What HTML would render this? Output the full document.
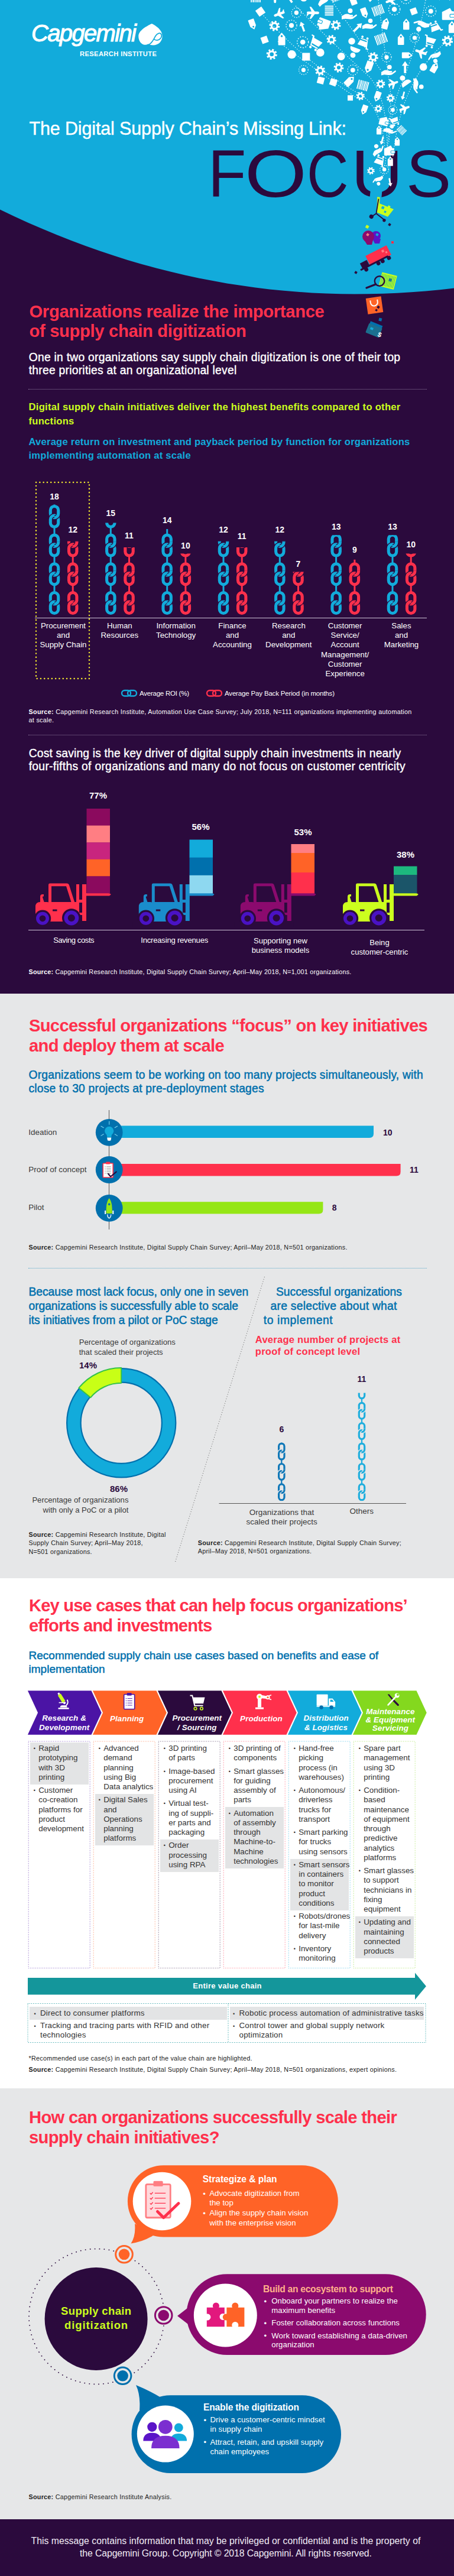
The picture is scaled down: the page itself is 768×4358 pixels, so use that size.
<!DOCTYPE html>
<html lang="en"><head><meta charset="utf-8"><title>The Digital Supply Chain's Missing Link: FOCUS</title>
<style>
*{margin:0;padding:0;box-sizing:border-box}
html,body{width:768px;height:4358px;overflow:hidden;background:#fff}
body{font-family:"Liberation Sans",sans-serif;position:relative}
#pg{position:absolute;left:0;top:0;width:768px;height:4358px;overflow:hidden;background:#fff}
.t{position:absolute;white-space:nowrap}
.bx{position:absolute}
svg{position:absolute;left:0;top:0;overflow:visible}
b{font-weight:700}
</style></head>
<body><div id="pg">
<div class="bx" style="left:0;top:0;width:768px;height:1681px;background:#2B0A3D"></div>
<div class="bx" style="left:0;top:1681px;width:768px;height:989px;background:#E6E7E8"></div>
<div class="bx" style="left:0;top:3533px;width:768px;height:729px;background:#E6E7E8"></div>
<div class="bx" style="left:0;top:4262px;width:768px;height:96px;background:#2B0A3D"></div>
<svg width="768" height="520" viewBox="0 0 768 520"><path d="M0 0 H768 V487.6 L744 490.3 L720 492.5 L696 494.3 L672 495.8 L648 496.8 L624 497.3 L600 497.5 L576 497.2 L552 496.5 L528 495.4 L504 493.8 L480 491.8 L456 489.4 L432 486.5 L408 483.1 L384 479.4 L360 475.1 L336 470.4 L312 465.2 L288 459.6 L264 453.5 L240 446.9 L216 439.9 L192 432.3 L168 424.3 L144 415.8 L120 406.8 L96 397.3 L72 387.3 L48 376.9 L24 365.9 L0 354.4 Z" fill="#12ABDB"/></svg><div class="t" style="left:53.0px;top:32.1px;font-size:40px;line-height:48px;color:#fff;letter-spacing:-1.652px;font-style:italic;-webkit-text-stroke:1px #fff;">Capgemini</div>
<svg width="300" height="120" viewBox="0 0 300 120"><path fill="#fff" d="M256.7 39.9 C263 43 274.6 50 274.6 61 C274.6 70 268 76.5 259 76.5 C256 76.5 253 75.6 251 74.2 C248 75.8 245 76.2 243 75.5 C238 74 234.3 68 234.3 61.5 C234.3 51 249 44 256.7 39.9 Z"/><path fill="none" stroke="#12ABDB" stroke-width="1.7" stroke-linecap="round" d="M252.3 75.3 C258 72 260 66 263 61 C266 56 271.4 54.4 273 58.6 C274.6 63 270 68.6 264.6 68 C262.6 67.8 261.2 67 260.6 65.8"/></svg><div class="t" style="left:135.0px;top:84.9px;font-size:11.2px;line-height:13px;color:#fff;letter-spacing:0.363px;font-weight:700;">RESEARCH INSTITUTE</div>
<div class="t" style="left:49.5px;top:199.4px;font-size:30.5px;line-height:37px;color:#fff;letter-spacing:-0.139px;-webkit-text-stroke:0.45px #fff;">The Digital Supply Chain’s Missing Link:</div>
<div class="bx" style="left:0;top:0" aria-label="FOCUS"><div class="t" style="left:351.9px;top:224.5px;font-size:114px;line-height:137px;color:#2B0A3D;transform-origin:0 0;transform:scaleX(0.9238);">F</div><div class="t" style="left:413.7px;top:224.5px;font-size:114px;line-height:137px;color:#2B0A3D;transform-origin:0 0;transform:scaleX(1.1816);">O</div><div class="t" style="left:519.1px;top:224.5px;font-size:114px;line-height:137px;color:#2B0A3D;transform-origin:0 0;transform:scaleX(0.8565);">C</div><div class="t" style="left:593.7px;top:224.5px;font-size:114px;line-height:137px;color:#2B0A3D;transform-origin:0 0;transform:scaleX(1.0637);">U</div><div class="t" style="left:686.9px;top:224.5px;font-size:114px;line-height:137px;color:#2B0A3D;transform-origin:0 0;transform:scaleX(1.0034);">S</div></div><svg width="768" height="600" viewBox="0 0 768 600"><g fill="none" stroke="#fff" stroke-width="1.1" stroke-dasharray="1.6 2.6" opacity=".9"><path d="M440 20 Q520 110 610 160 Q650 185 652 270"/><path d="M500 10 Q570 80 625 130 Q655 165 655 250"/><path d="M768 60 Q715 100 690 160 Q672 200 664 270"/><path d="M720 0 Q705 80 680 140 Q662 180 658 240"/><path d="M560 0 Q610 70 645 120"/><path d="M470 70 Q550 130 610 170"/><path d="M640 0 Q650 80 660 150 Q664 200 648 300"/></g><g transform="translate(432.5 -3.4) rotate(0) scale(1.04)"><rect x="-8" y="-7" width="1.6" height="14" fill="#fff"/><rect x="-5.5" y="-7" width="0.8" height="14" fill="#fff"/><rect x="-4" y="-7" width="1.6" height="14" fill="#fff"/><rect x="-1.5" y="-7" width="1.2" height="14" fill="#fff"/><rect x="0.5" y="-7" width="0.8" height="14" fill="#fff"/><rect x="2" y="-7" width="1.6" height="14" fill="#fff"/><rect x="4.5" y="-7" width="1.2" height="14" fill="#fff"/><rect x="6.5" y="-7" width="1.6" height="14" fill="#fff"/></g><g transform="translate(465.2 -4.3) rotate(90) scale(1.00)"><path fill="#fff" d="M-9 1 L-9 -1 Q-9 -2 -7 -2 L-2 -2 L-5 -9 L-2.5 -9 L3 -2 L7 -2 Q9.5 -2 9.5 0 Q9.5 2 7 2 L3 2 L-2.5 9 L-5 9 L-2 2 L-6 2 L-8 4.5 L-9.5 4.5 L-8.5 1 Z"/></g><g transform="translate(489.1 -3.1) rotate(-35) scale(1.11)"><path fill="#fff" d="M0 -9 L4.5 -2.5 L1.6 -2.5 L1.6 8 L-1.6 8 L-1.6 -2.5 L-4.5 -2.5 Z"/></g><g transform="translate(513.8 -3.9) rotate(0) scale(1.07)"><circle r="6" fill="#fff"/></g><g transform="translate(546.3 -1.1) rotate(-35) scale(1.05)"><path fill="#fff" d="M-11 2 L-6 -1 Q-2 -2 2 0 L5 0 Q7 0.5 6 2.2 L1 2.6 L6.5 2.6 L11 -0.5 Q13 -0.5 12 1.5 L6 6 Q4 7 0 6.6 L-6 6 L-11 7 Z"/><circle cx="2" cy="-6" r="3.6" fill="#fff"/></g><g transform="translate(568.9 -6.0) rotate(-20) scale(1.11)"><rect x="-8" y="-7" width="1.6" height="14" fill="#fff"/><rect x="-5.5" y="-7" width="0.8" height="14" fill="#fff"/><rect x="-4" y="-7" width="1.6" height="14" fill="#fff"/><rect x="-1.5" y="-7" width="1.2" height="14" fill="#fff"/><rect x="0.5" y="-7" width="0.8" height="14" fill="#fff"/><rect x="2" y="-7" width="1.6" height="14" fill="#fff"/><rect x="4.5" y="-7" width="1.2" height="14" fill="#fff"/><rect x="6.5" y="-7" width="1.6" height="14" fill="#fff"/></g><g transform="translate(596.9 -0.9) rotate(-20) scale(1.05)"><path fill="#fff" fill-rule="evenodd" d="M-5 -3 L0 -9 L5 -3 L5 8 Q5 9 4 9 L-4 9 Q-5 9 -5 8 Z M0 -5.6 a1.5 1.5 0 1 0 0.01 0 Z"/></g><g transform="translate(630.9 -8.6) rotate(-35) scale(1.00)"><path fill="#fff" d="M-11 2 L-6 -1 Q-2 -2 2 0 L5 0 Q7 0.5 6 2.2 L1 2.6 L6.5 2.6 L11 -0.5 Q13 -0.5 12 1.5 L6 6 Q4 7 0 6.6 L-6 6 L-11 7 Z"/><circle cx="2" cy="-6" r="3.6" fill="#fff"/></g><g transform="translate(661.8 0.6) rotate(160) scale(1.04)"><path fill="#fff" d="M-9 1 L-9 -1 Q-9 -2 -7 -2 L-2 -2 L-5 -9 L-2.5 -9 L3 -2 L7 -2 Q9.5 -2 9.5 0 Q9.5 2 7 2 L3 2 L-2.5 9 L-5 9 L-2 2 L-6 2 L-8 4.5 L-9.5 4.5 L-8.5 1 Z"/></g><g transform="translate(686.5 -2.8) rotate(0) scale(1.13)"><circle r="8" fill="none" stroke="#fff" stroke-width="1.2" stroke-dasharray="1.5 2.2"/><circle r="3.6" fill="#fff"/></g><g transform="translate(709.6 -8.8) rotate(15) scale(0.98)"><rect x="-8" y="-7" width="1.6" height="14" fill="#fff"/><rect x="-5.5" y="-7" width="0.8" height="14" fill="#fff"/><rect x="-4" y="-7" width="1.6" height="14" fill="#fff"/><rect x="-1.5" y="-7" width="1.2" height="14" fill="#fff"/><rect x="0.5" y="-7" width="0.8" height="14" fill="#fff"/><rect x="2" y="-7" width="1.6" height="14" fill="#fff"/><rect x="4.5" y="-7" width="1.2" height="14" fill="#fff"/><rect x="6.5" y="-7" width="1.6" height="14" fill="#fff"/></g><g transform="translate(741.3 -8.4) rotate(30) scale(1.18)"><rect x="-5.5" y="-5.5" width="11" height="11" fill="#fff"/></g><g transform="translate(765.9 -6.6) rotate(45) scale(1.11)"><path fill="#fff" d="M0 -9 L4.5 -2.5 L1.6 -2.5 L1.6 8 L-1.6 8 L-1.6 -2.5 L-4.5 -2.5 Z"/></g><g transform="translate(440.5 19.7) rotate(-35) scale(1.13)"><rect x="-5.5" y="-5.5" width="11" height="11" fill="#fff"/></g><g transform="translate(472.6 23.5) rotate(160) scale(1.03)"><path fill="#fff" d="M-9 1 L-9 -1 Q-9 -2 -7 -2 L-2 -2 L-5 -9 L-2.5 -9 L3 -2 L7 -2 Q9.5 -2 9.5 0 Q9.5 2 7 2 L3 2 L-2.5 9 L-5 9 L-2 2 L-6 2 L-8 4.5 L-9.5 4.5 L-8.5 1 Z"/></g><g transform="translate(501.4 21.5) rotate(0) scale(1.02)"><circle r="8" fill="none" stroke="#fff" stroke-width="1.2" stroke-dasharray="1.5 2.2"/><circle r="3.6" fill="#fff"/></g><g transform="translate(529.2 21.7) rotate(0) scale(1.12)"><path fill="#fff" d="M-9 1 L-9 -1 Q-9 -2 -7 -2 L-2 -2 L-5 -9 L-2.5 -9 L3 -2 L7 -2 Q9.5 -2 9.5 0 Q9.5 2 7 2 L3 2 L-2.5 9 L-5 9 L-2 2 L-6 2 L-8 4.5 L-9.5 4.5 L-8.5 1 Z"/></g><g transform="translate(556.8 17.9) rotate(90) scale(1.04)"><rect x="-8" y="-7" width="1.6" height="14" fill="#fff"/><rect x="-5.5" y="-7" width="0.8" height="14" fill="#fff"/><rect x="-4" y="-7" width="1.6" height="14" fill="#fff"/><rect x="-1.5" y="-7" width="1.2" height="14" fill="#fff"/><rect x="0.5" y="-7" width="0.8" height="14" fill="#fff"/><rect x="2" y="-7" width="1.6" height="14" fill="#fff"/><rect x="4.5" y="-7" width="1.2" height="14" fill="#fff"/><rect x="6.5" y="-7" width="1.6" height="14" fill="#fff"/></g><g transform="translate(590.2 25.0) rotate(0) scale(1.11)"><path fill="#fff" d="M-11 2 L-6 -1 Q-2 -2 2 0 L5 0 Q7 0.5 6 2.2 L1 2.6 L6.5 2.6 L11 -0.5 Q13 -0.5 12 1.5 L6 6 Q4 7 0 6.6 L-6 6 L-11 7 Z"/><circle cx="2" cy="-6" r="3.6" fill="#fff"/></g><g transform="translate(616.6 22.2) rotate(160) scale(1.00)"><path fill="#fff" fill-rule="evenodd" d="M-5 -3 L0 -9 L5 -3 L5 8 Q5 9 4 9 L-4 9 Q-5 9 -5 8 Z M0 -5.6 a1.5 1.5 0 1 0 0.01 0 Z"/></g><g transform="translate(639.4 17.4) rotate(-20) scale(1.14)"><rect x="-8" y="-7" width="1.6" height="14" fill="#fff"/><rect x="-5.5" y="-7" width="0.8" height="14" fill="#fff"/><rect x="-4" y="-7" width="1.6" height="14" fill="#fff"/><rect x="-1.5" y="-7" width="1.2" height="14" fill="#fff"/><rect x="0.5" y="-7" width="0.8" height="14" fill="#fff"/><rect x="2" y="-7" width="1.6" height="14" fill="#fff"/><rect x="4.5" y="-7" width="1.2" height="14" fill="#fff"/><rect x="6.5" y="-7" width="1.6" height="14" fill="#fff"/></g><g transform="translate(667.1 15.8) rotate(0) scale(1.20)"><circle r="8" fill="none" stroke="#fff" stroke-width="1.2" stroke-dasharray="1.5 2.2"/><circle r="3.6" fill="#fff"/></g><g transform="translate(699.9 19.1) rotate(160) scale(0.98)"><rect x="-5.5" y="-5.5" width="11" height="11" fill="#fff"/></g><g transform="translate(728.7 18.9) rotate(0) scale(1.11)"><circle r="8" fill="none" stroke="#fff" stroke-width="1.2" stroke-dasharray="1.5 2.2"/><circle r="3.6" fill="#fff"/></g><g transform="translate(757.8 23.6) rotate(0) scale(1.12)"><path fill="#fff" d="M-9 -3 L3 -9 L6 -4 L8 -4 Q9 -4 9 -3 L9 8 Q9 9 8 9 L-8 9 Q-9 9 -9 8 Z"/><rect x="3" y="0.5" width="7.5" height="4.6" rx="1" fill="#fff" stroke="#12ABDB" stroke-width="1"/></g><g transform="translate(427.2 41.3) rotate(160) scale(1.01)"><path fill="#fff" fill-rule="evenodd" d="M-5 -3 L0 -9 L5 -3 L5 8 Q5 9 4 9 L-4 9 Q-5 9 -5 8 Z M0 -5.6 a1.5 1.5 0 1 0 0.01 0 Z"/></g><g transform="translate(464.3 43.9) rotate(0) scale(1.14)"><circle r="4.3" fill="none" stroke="#fff" stroke-width="2.9"/><circle r="6.6" fill="none" stroke="#fff" stroke-width="2.5" stroke-dasharray="2.61"/></g><g transform="translate(493.0 43.1) rotate(0) scale(1.13)"><circle r="8" fill="none" stroke="#fff" stroke-width="1.2" stroke-dasharray="1.5 2.2"/><circle r="3.6" fill="#fff"/></g><g transform="translate(511.9 45.5) rotate(-20) scale(1.02)"><path fill="#fff" d="M0 -9 L4.5 -2.5 L1.6 -2.5 L1.6 8 L-1.6 8 L-1.6 -2.5 L-4.5 -2.5 Z"/></g><g transform="translate(547.0 41.9) rotate(200) scale(1.12)"><path fill="#fff" d="M-9 -3 L3 -9 L6 -4 L8 -4 Q9 -4 9 -3 L9 8 Q9 9 8 9 L-8 9 Q-9 9 -9 8 Z"/><rect x="3" y="0.5" width="7.5" height="4.6" rx="1" fill="#fff" stroke="#12ABDB" stroke-width="1"/></g><g transform="translate(568.1 42.5) rotate(0) scale(1.08)"><circle r="4.3" fill="none" stroke="#fff" stroke-width="2.9"/><circle r="6.6" fill="none" stroke="#fff" stroke-width="2.5" stroke-dasharray="2.61"/></g><g transform="translate(604.8 46.7) rotate(45) scale(1.16)"><path fill="#fff" d="M0 -9 L4.5 -2.5 L1.6 -2.5 L1.6 8 L-1.6 8 L-1.6 -2.5 L-4.5 -2.5 Z"/></g><g transform="translate(624.4 41.6) rotate(0) scale(1.05)"><path fill="#fff" d="M-11 2 L-6 -1 Q-2 -2 2 0 L5 0 Q7 0.5 6 2.2 L1 2.6 L6.5 2.6 L11 -0.5 Q13 -0.5 12 1.5 L6 6 Q4 7 0 6.6 L-6 6 L-11 7 Z"/><circle cx="2" cy="-6" r="3.6" fill="#fff"/></g><g transform="translate(652.2 39.8) rotate(15) scale(1.06)"><path fill="#fff" fill-rule="evenodd" d="M-5 -3 L0 -9 L5 -3 L5 8 Q5 9 4 9 L-4 9 Q-5 9 -5 8 Z M0 -5.6 a1.5 1.5 0 1 0 0.01 0 Z"/></g><g transform="translate(687.2 40.9) rotate(0) scale(1.04)"><path fill="#fff" fill-rule="evenodd" d="M-5 -3 L0 -9 L5 -3 L5 8 Q5 9 4 9 L-4 9 Q-5 9 -5 8 Z M0 -5.6 a1.5 1.5 0 1 0 0.01 0 Z"/></g><g transform="translate(712.8 43.6) rotate(200) scale(1.15)"><path fill="#fff" d="M-11 2 L-6 -1 Q-2 -2 2 0 L5 0 Q7 0.5 6 2.2 L1 2.6 L6.5 2.6 L11 -0.5 Q13 -0.5 12 1.5 L6 6 Q4 7 0 6.6 L-6 6 L-11 7 Z"/><circle cx="2" cy="-6" r="3.6" fill="#fff"/></g><g transform="translate(737.1 46.5) rotate(160) scale(1.03)"><path fill="#fff" d="M-10 -8 L-6 -8 L-5 -5 L9 -5 L7 3 L-4 3 L-3.2 5 L7 5 L7 6.6 L-4.6 6.6 L-7.6 -6.2 L-10 -6.2 Z"/><circle cx="-3" cy="9" r="1.8" fill="#fff"/><circle cx="5.5" cy="9" r="1.8" fill="#fff"/></g><g transform="translate(764.5 45.6) rotate(0) scale(1.13)"><path fill="#fff" fill-rule="evenodd" d="M-5 -3 L0 -9 L5 -3 L5 8 Q5 9 4 9 L-4 9 Q-5 9 -5 8 Z M0 -5.6 a1.5 1.5 0 1 0 0.01 0 Z"/></g><g transform="translate(447.6 67.4) rotate(-20) scale(1.01)"><rect x="-5.5" y="-5.5" width="11" height="11" fill="#fff"/></g><g transform="translate(476.6 65.9) rotate(0) scale(1.19)"><path fill="#fff" fill-rule="evenodd" d="M-5 -3 L0 -9 L5 -3 L5 8 Q5 9 4 9 L-4 9 Q-5 9 -5 8 Z M0 -5.6 a1.5 1.5 0 1 0 0.01 0 Z"/></g><g transform="translate(512.2 71.3) rotate(0) scale(1.19)"><circle r="8" fill="none" stroke="#fff" stroke-width="1.2" stroke-dasharray="1.5 2.2"/><circle r="3.6" fill="#fff"/></g><g transform="translate(533.5 72.1) rotate(30) scale(1.18)"><path fill="#fff" d="M-10 -8 L-6 -8 L-5 -5 L9 -5 L7 3 L-4 3 L-3.2 5 L7 5 L7 6.6 L-4.6 6.6 L-7.6 -6.2 L-10 -6.2 Z"/><circle cx="-3" cy="9" r="1.8" fill="#fff"/><circle cx="5.5" cy="9" r="1.8" fill="#fff"/></g><g transform="translate(560.6 67.2) rotate(0) scale(1.04)"><circle r="4.3" fill="none" stroke="#fff" stroke-width="2.9"/><circle r="6.6" fill="none" stroke="#fff" stroke-width="2.5" stroke-dasharray="2.61"/></g><g transform="translate(595.0 69.7) rotate(0) scale(0.96)"><circle r="6" fill="#fff"/></g><g transform="translate(615.4 73.1) rotate(200) scale(1.06)"><path fill="#fff" d="M-10 -8 L-6 -8 L-5 -5 L9 -5 L7 3 L-4 3 L-3.2 5 L7 5 L7 6.6 L-4.6 6.6 L-7.6 -6.2 L-10 -6.2 Z"/><circle cx="-3" cy="9" r="1.8" fill="#fff"/><circle cx="5.5" cy="9" r="1.8" fill="#fff"/></g><g transform="translate(644.6 65.8) rotate(160) scale(1.18)"><rect x="-8" y="-7" width="1.6" height="14" fill="#fff"/><rect x="-5.5" y="-7" width="0.8" height="14" fill="#fff"/><rect x="-4" y="-7" width="1.6" height="14" fill="#fff"/><rect x="-1.5" y="-7" width="1.2" height="14" fill="#fff"/><rect x="0.5" y="-7" width="0.8" height="14" fill="#fff"/><rect x="2" y="-7" width="1.6" height="14" fill="#fff"/><rect x="4.5" y="-7" width="1.2" height="14" fill="#fff"/><rect x="6.5" y="-7" width="1.6" height="14" fill="#fff"/></g><g transform="translate(678.2 66.5) rotate(0) scale(1.06)"><path fill="#fff" fill-rule="evenodd" d="M-5 -3 L0 -9 L5 -3 L5 8 Q5 9 4 9 L-4 9 Q-5 9 -5 8 Z M0 -5.6 a1.5 1.5 0 1 0 0.01 0 Z"/></g><g transform="translate(701.4 64.0) rotate(0) scale(0.99)"><circle r="8" fill="none" stroke="#fff" stroke-width="1.2" stroke-dasharray="1.5 2.2"/><circle r="3.6" fill="#fff"/></g><g transform="translate(727.3 69.1) rotate(15) scale(1.07)"><path fill="#fff" d="M-10 -8 L-6 -8 L-5 -5 L9 -5 L7 3 L-4 3 L-3.2 5 L7 5 L7 6.6 L-4.6 6.6 L-7.6 -6.2 L-10 -6.2 Z"/><circle cx="-3" cy="9" r="1.8" fill="#fff"/><circle cx="5.5" cy="9" r="1.8" fill="#fff"/></g><g transform="translate(756.9 69.3) rotate(0) scale(1.18)"><circle r="4.3" fill="none" stroke="#fff" stroke-width="2.9"/><circle r="6.6" fill="none" stroke="#fff" stroke-width="2.5" stroke-dasharray="2.61"/></g><g transform="translate(459.7 91.9) rotate(0) scale(1.16)"><circle r="4.3" fill="none" stroke="#fff" stroke-width="2.9"/><circle r="6.6" fill="none" stroke="#fff" stroke-width="2.5" stroke-dasharray="2.61"/></g><g transform="translate(493.6 92.2) rotate(0) scale(1.19)"><circle r="6" fill="#fff"/></g><g transform="translate(517.8 96.0) rotate(90) scale(1.19)"><rect x="-5.5" y="-5.5" width="11" height="11" fill="#fff"/></g><g transform="translate(541.8 88.9) rotate(0) scale(1.14)"><circle r="6" fill="#fff"/></g><g transform="translate(577.1 95.5) rotate(0) scale(1.08)"><circle r="6" fill="#fff"/></g><g transform="translate(598.5 89.2) rotate(200) scale(1.11)"><circle cy="-4" r="4" fill="#fff"/><path fill="#fff" d="M-8 8 Q-8 1 0 1 Q8 1 8 8 Z"/></g><g transform="translate(631.4 96.7) rotate(0) scale(1.08)"><circle r="4.3" fill="none" stroke="#fff" stroke-width="2.9"/><circle r="6.6" fill="none" stroke="#fff" stroke-width="2.5" stroke-dasharray="2.61"/></g><g transform="translate(654.0 96.8) rotate(0) scale(1.01)"><circle r="8" fill="none" stroke="#fff" stroke-width="1.2" stroke-dasharray="1.5 2.2"/><circle r="3.6" fill="#fff"/></g><g transform="translate(688.8 93.4) rotate(90) scale(1.00)"><path fill="#fff" fill-rule="evenodd" d="M-5 -3 L0 -9 L5 -3 L5 8 Q5 9 4 9 L-4 9 Q-5 9 -5 8 Z M0 -5.6 a1.5 1.5 0 1 0 0.01 0 Z"/></g><g transform="translate(712.2 88.4) rotate(200) scale(1.08)"><path fill="#fff" d="M-9 1 L-9 -1 Q-9 -2 -7 -2 L-2 -2 L-5 -9 L-2.5 -9 L3 -2 L7 -2 Q9.5 -2 9.5 0 Q9.5 2 7 2 L3 2 L-2.5 9 L-5 9 L-2 2 L-6 2 L-8 4.5 L-9.5 4.5 L-8.5 1 Z"/></g><g transform="translate(736.4 96.9) rotate(160) scale(1.00)"><path fill="#fff" d="M-11 2 L-6 -1 Q-2 -2 2 0 L5 0 Q7 0.5 6 2.2 L1 2.6 L6.5 2.6 L11 -0.5 Q13 -0.5 12 1.5 L6 6 Q4 7 0 6.6 L-6 6 L-11 7 Z"/><circle cx="2" cy="-6" r="3.6" fill="#fff"/></g><g transform="translate(513.4 118.4) rotate(0) scale(0.98)"><circle r="8" fill="none" stroke="#fff" stroke-width="1.2" stroke-dasharray="1.5 2.2"/><circle r="3.6" fill="#fff"/></g><g transform="translate(541.6 119.6) rotate(0) scale(1.10)"><circle r="4.3" fill="none" stroke="#fff" stroke-width="2.9"/><circle r="6.6" fill="none" stroke="#fff" stroke-width="2.5" stroke-dasharray="2.61"/></g><g transform="translate(573.0 114.3) rotate(0) scale(1.08)"><circle r="4.3" fill="none" stroke="#fff" stroke-width="2.9"/><circle r="6.6" fill="none" stroke="#fff" stroke-width="2.5" stroke-dasharray="2.61"/></g><g transform="translate(596.8 118.6) rotate(0) scale(1.08)"><circle r="8" fill="none" stroke="#fff" stroke-width="1.2" stroke-dasharray="1.5 2.2"/><circle r="3.6" fill="#fff"/></g><g transform="translate(623.7 113.7) rotate(200) scale(1.15)"><path fill="#fff" fill-rule="evenodd" d="M-5 -3 L0 -9 L5 -3 L5 8 Q5 9 4 9 L-4 9 Q-5 9 -5 8 Z M0 -5.6 a1.5 1.5 0 1 0 0.01 0 Z"/></g><g transform="translate(656.7 119.9) rotate(0) scale(1.07)"><path fill="#fff" d="M-11 2 L-6 -1 Q-2 -2 2 0 L5 0 Q7 0.5 6 2.2 L1 2.6 L6.5 2.6 L11 -0.5 Q13 -0.5 12 1.5 L6 6 Q4 7 0 6.6 L-6 6 L-11 7 Z"/><circle cx="2" cy="-6" r="3.6" fill="#fff"/></g><g transform="translate(685.2 114.2) rotate(0) scale(1.18)"><path fill="#fff" d="M0 -9 L4.5 -2.5 L1.6 -2.5 L1.6 8 L-1.6 8 L-1.6 -2.5 L-4.5 -2.5 Z"/></g><g transform="translate(716.2 113.4) rotate(0) scale(1.05)"><circle r="6" fill="#fff"/></g><g transform="translate(735.2 114.1) rotate(30) scale(1.01)"><path fill="#fff" fill-rule="evenodd" d="M-5 -3 L0 -9 L5 -3 L5 8 Q5 9 4 9 L-4 9 Q-5 9 -5 8 Z M0 -5.6 a1.5 1.5 0 1 0 0.01 0 Z"/></g><g transform="translate(542.6 136.1) rotate(15) scale(1.03)"><rect x="-5.5" y="-5.5" width="11" height="11" fill="#fff"/></g><g transform="translate(563.9 139.2) rotate(200) scale(1.03)"><rect x="-5.5" y="-5.5" width="11" height="11" fill="#fff"/></g><g transform="translate(591.8 136.8) rotate(45) scale(1.10)"><path fill="#fff" fill-rule="evenodd" d="M-5 -3 L0 -9 L5 -3 L5 8 Q5 9 4 9 L-4 9 Q-5 9 -5 8 Z M0 -5.6 a1.5 1.5 0 1 0 0.01 0 Z"/></g><g transform="translate(613.7 144.4) rotate(15) scale(1.13)"><rect x="-8" y="-7" width="1.6" height="14" fill="#fff"/><rect x="-5.5" y="-7" width="0.8" height="14" fill="#fff"/><rect x="-4" y="-7" width="1.6" height="14" fill="#fff"/><rect x="-1.5" y="-7" width="1.2" height="14" fill="#fff"/><rect x="0.5" y="-7" width="0.8" height="14" fill="#fff"/><rect x="2" y="-7" width="1.6" height="14" fill="#fff"/><rect x="4.5" y="-7" width="1.2" height="14" fill="#fff"/><rect x="6.5" y="-7" width="1.6" height="14" fill="#fff"/></g><g transform="translate(643.9 142.0) rotate(0) scale(0.96)"><circle r="4.3" fill="none" stroke="#fff" stroke-width="2.9"/><circle r="6.6" fill="none" stroke="#fff" stroke-width="2.5" stroke-dasharray="2.61"/></g><g transform="translate(665.0 141.3) rotate(-20) scale(0.95)"><path fill="#fff" d="M-9 1 L-9 -1 Q-9 -2 -7 -2 L-2 -2 L-5 -9 L-2.5 -9 L3 -2 L7 -2 Q9.5 -2 9.5 0 Q9.5 2 7 2 L3 2 L-2.5 9 L-5 9 L-2 2 L-6 2 L-8 4.5 L-9.5 4.5 L-8.5 1 Z"/></g><g transform="translate(683.5 135.8) rotate(-35) scale(1.13)"><circle cy="-4" r="4" fill="#fff"/><path fill="#fff" d="M-8 8 Q-8 1 0 1 Q8 1 8 8 Z"/></g><g transform="translate(706.3 144.6) rotate(90) scale(1.07)"><path fill="#fff" d="M-11 2 L-6 -1 Q-2 -2 2 0 L5 0 Q7 0.5 6 2.2 L1 2.6 L6.5 2.6 L11 -0.5 Q13 -0.5 12 1.5 L6 6 Q4 7 0 6.6 L-6 6 L-11 7 Z"/><circle cx="2" cy="-6" r="3.6" fill="#fff"/></g><g transform="translate(592.5 165.7) rotate(90) scale(0.82)"><rect x="-5.5" y="-5.5" width="11" height="11" fill="#fff"/></g><g transform="translate(609.7 162.5) rotate(0) scale(0.92)"><circle r="4.3" fill="none" stroke="#fff" stroke-width="2.9"/><circle r="6.6" fill="none" stroke="#fff" stroke-width="2.5" stroke-dasharray="2.61"/></g><g transform="translate(638.3 163.4) rotate(200) scale(0.98)"><path fill="#fff" fill-rule="evenodd" d="M-5 -3 L0 -9 L5 -3 L5 8 Q5 9 4 9 L-4 9 Q-5 9 -5 8 Z M0 -5.6 a1.5 1.5 0 1 0 0.01 0 Z"/></g><g transform="translate(660.7 166.1) rotate(0) scale(0.88)"><circle r="4.3" fill="none" stroke="#fff" stroke-width="2.9"/><circle r="6.6" fill="none" stroke="#fff" stroke-width="2.5" stroke-dasharray="2.61"/></g><g transform="translate(682.2 161.6) rotate(195) scale(0.83)"><path fill="#fff" d="M0 -9 L4.5 -2.5 L1.6 -2.5 L1.6 8 L-1.6 8 L-1.6 -2.5 L-4.5 -2.5 Z"/></g><g transform="translate(616.0 185.8) rotate(200) scale(0.93)"><path fill="#fff" fill-rule="evenodd" d="M-5 -3 L0 -9 L5 -3 L5 8 Q5 9 4 9 L-4 9 Q-5 9 -5 8 Z M0 -5.6 a1.5 1.5 0 1 0 0.01 0 Z"/></g><g transform="translate(640.0 183.8) rotate(0) scale(0.84)"><circle r="4.3" fill="none" stroke="#fff" stroke-width="2.9"/><circle r="6.6" fill="none" stroke="#fff" stroke-width="2.5" stroke-dasharray="2.61"/></g><g transform="translate(664.5 185.9) rotate(0) scale(0.92)"><circle r="8" fill="none" stroke="#fff" stroke-width="1.2" stroke-dasharray="1.5 2.2"/><circle r="3.6" fill="#fff"/></g><g transform="translate(684.1 183.6) rotate(-20) scale(0.98)"><path fill="#fff" d="M-9 1 L-9 -1 Q-9 -2 -7 -2 L-2 -2 L-5 -9 L-2.5 -9 L3 -2 L7 -2 Q9.5 -2 9.5 0 Q9.5 2 7 2 L3 2 L-2.5 9 L-5 9 L-2 2 L-6 2 L-8 4.5 L-9.5 4.5 L-8.5 1 Z"/></g><g transform="translate(649.7 204.6) rotate(15) scale(0.86)"><path fill="#fff" d="M-9 -3 L3 -9 L6 -4 L8 -4 Q9 -4 9 -3 L9 8 Q9 9 8 9 L-8 9 Q-9 9 -9 8 Z"/><rect x="3" y="0.5" width="7.5" height="4.6" rx="1" fill="#fff" stroke="#12ABDB" stroke-width="1"/></g><g transform="translate(666.8 204.1) rotate(-20) scale(0.84)"><path fill="#fff" d="M-10 -8 L-6 -8 L-5 -5 L9 -5 L7 3 L-4 3 L-3.2 5 L7 5 L7 6.6 L-4.6 6.6 L-7.6 -6.2 L-10 -6.2 Z"/><circle cx="-3" cy="9" r="1.8" fill="#fff"/><circle cx="5.5" cy="9" r="1.8" fill="#fff"/></g><g transform="translate(641.1 220.0) rotate(0) scale(0.83)"><path fill="#fff" fill-rule="evenodd" d="M-5 -3 L0 -9 L5 -3 L5 8 Q5 9 4 9 L-4 9 Q-5 9 -5 8 Z M0 -5.6 a1.5 1.5 0 1 0 0.01 0 Z"/></g><g transform="translate(659.7 218.9) rotate(15) scale(0.95)"><path fill="#fff" d="M-11 2 L-6 -1 Q-2 -2 2 0 L5 0 Q7 0.5 6 2.2 L1 2.6 L6.5 2.6 L11 -0.5 Q13 -0.5 12 1.5 L6 6 Q4 7 0 6.6 L-6 6 L-11 7 Z"/><circle cx="2" cy="-6" r="3.6" fill="#fff"/></g><g transform="translate(679.5 220.3) rotate(45) scale(0.82)"><rect x="-8" y="-7" width="1.6" height="14" fill="#fff"/><rect x="-5.5" y="-7" width="0.8" height="14" fill="#fff"/><rect x="-4" y="-7" width="1.6" height="14" fill="#fff"/><rect x="-1.5" y="-7" width="1.2" height="14" fill="#fff"/><rect x="0.5" y="-7" width="0.8" height="14" fill="#fff"/><rect x="2" y="-7" width="1.6" height="14" fill="#fff"/><rect x="4.5" y="-7" width="1.2" height="14" fill="#fff"/><rect x="6.5" y="-7" width="1.6" height="14" fill="#fff"/></g><g transform="translate(646.5 237.6) rotate(195) scale(0.83)"><path fill="#fff" d="M0 -9 L4.5 -2.5 L1.6 -2.5 L1.6 8 L-1.6 8 L-1.6 -2.5 L-4.5 -2.5 Z"/></g><g transform="translate(672.0 239.1) rotate(0) scale(0.82)"><path fill="#fff" fill-rule="evenodd" d="M-5 -3 L0 -9 L5 -3 L5 8 Q5 9 4 9 L-4 9 Q-5 9 -5 8 Z M0 -5.6 a1.5 1.5 0 1 0 0.01 0 Z"/></g><g transform="translate(638.3 253.3) rotate(-35) scale(0.98)"><path fill="#fff" d="M-11 2 L-6 -1 Q-2 -2 2 0 L5 0 Q7 0.5 6 2.2 L1 2.6 L6.5 2.6 L11 -0.5 Q13 -0.5 12 1.5 L6 6 Q4 7 0 6.6 L-6 6 L-11 7 Z"/><circle cx="2" cy="-6" r="3.6" fill="#fff"/></g><g transform="translate(658.3 254.5) rotate(0) scale(0.94)"><path fill="#fff" d="M-9 -3 L3 -9 L6 -4 L8 -4 Q9 -4 9 -3 L9 8 Q9 9 8 9 L-8 9 Q-9 9 -9 8 Z"/><rect x="3" y="0.5" width="7.5" height="4.6" rx="1" fill="#fff" stroke="#12ABDB" stroke-width="1"/></g><g transform="translate(642.5 273.2) rotate(200) scale(1.00)"><path fill="#fff" d="M-10 -8 L-6 -8 L-5 -5 L9 -5 L7 3 L-4 3 L-3.2 5 L7 5 L7 6.6 L-4.6 6.6 L-7.6 -6.2 L-10 -6.2 Z"/><circle cx="-3" cy="9" r="1.8" fill="#fff"/><circle cx="5.5" cy="9" r="1.8" fill="#fff"/></g><g transform="translate(660.3 272.7) rotate(0) scale(0.90)"><path fill="#fff" fill-rule="evenodd" d="M-5 -3 L0 -9 L5 -3 L5 8 Q5 9 4 9 L-4 9 Q-5 9 -5 8 Z M0 -5.6 a1.5 1.5 0 1 0 0.01 0 Z"/></g><g transform="translate(627.4 289.0) rotate(0) scale(0.81)"><circle r="4.3" fill="none" stroke="#fff" stroke-width="2.9"/><circle r="6.6" fill="none" stroke="#fff" stroke-width="2.5" stroke-dasharray="2.61"/></g><g transform="translate(650.1 286.8) rotate(0) scale(0.92)"><circle r="8" fill="none" stroke="#fff" stroke-width="1.2" stroke-dasharray="1.5 2.2"/><circle r="3.6" fill="#fff"/></g><g transform="translate(640.2 305.6) rotate(160) scale(0.83)"><path fill="#fff" d="M-11 2 L-6 -1 Q-2 -2 2 0 L5 0 Q7 0.5 6 2.2 L1 2.6 L6.5 2.6 L11 -0.5 Q13 -0.5 12 1.5 L6 6 Q4 7 0 6.6 L-6 6 L-11 7 Z"/><circle cx="2" cy="-6" r="3.6" fill="#fff"/></g><g transform="translate(659.7 308.1) rotate(170) scale(0.83)"><path fill="#fff" d="M0 -9 L4.5 -2.5 L1.6 -2.5 L1.6 8 L-1.6 8 L-1.6 -2.5 L-4.5 -2.5 Z"/></g></svg><svg width="768" height="600" viewBox="0 0 768 600"><path d="M627.5 316 L647 316 L645 338 L625 338 Z" fill="#12ABDB"/><g transform="translate(646 355.5) rotate(22) scale(1.12)"><path fill="#CBFF1E" d="M-14 -16 L-10 -17 L-7 -8 L16 -8 L12 6 L-6 6 Z"/><path fill="none" stroke="#2B0A3D" stroke-width="1.6" d="M-11 -14 L-6 8 L-10 14 M-6 8 L8 12"/><circle cx="-11" cy="15" r="3.2" fill="#2B0A3D"/><circle cx="9" cy="13" r="2.4" fill="#2B0A3D"/><rect x="-2" y="-6" width="4" height="4" fill="#12ABDB"/><rect x="4" y="-1" width="3" height="3" fill="#12ABDB"/></g><rect x="656" y="348" width="4" height="4" fill="#CBFF1E" transform="rotate(30 658 350)"/><rect x="657" y="378" width="4" height="4" fill="#2B0A3D" transform="rotate(30 659 380)"/><rect x="619" y="381" width="5" height="5" fill="#CBFF1E" transform="rotate(30 621 383)"/><circle cx="636" cy="399" r="8" fill="#5A14C8"/><path fill="#5A14C8" d="M630 404 L644 404 L642 412 L634 412 Z"/><circle cx="623" cy="400" r="10" fill="#8B0A6E"/><path fill="#8B0A6E" d="M616 406 L631 406 L629 414 L621 414 Z"/><rect x="620" y="395" width="4" height="4" fill="#FF7E83" transform="rotate(30 622 397)"/><rect x="636" y="395" width="4" height="4" fill="#12ABDB" transform="rotate(30 638 397)"/><g transform="translate(640 432) rotate(-27)"><rect x="-20" y="-9" width="40" height="18" fill="#FF304C"/><rect x="-34" y="-2" width="13" height="11" fill="#2B0A3D"/><rect x="-38" y="7" width="52" height="3" fill="#2B0A3D"/><circle cx="-29" cy="12" r="3.4" fill="#2B0A3D"/><circle cx="-6" cy="12" r="3.4" fill="#2B0A3D"/><circle cx="2" cy="12" r="3.4" fill="#2B0A3D"/><circle cx="14" cy="12" r="3.4" fill="#2B0A3D"/><rect x="8" y="-5" width="4" height="4" fill="#FF7E83"/><rect x="13" y="0" width="3" height="3" fill="#FF7E83"/></g><rect x="662" y="408" width="4" height="4" fill="#FF304C"/><rect x="600" y="459" width="4" height="4" fill="#2B0A3D" transform="rotate(30 602 461)"/><g transform="translate(655 476) rotate(14)"><rect x="-12" y="-13" width="26" height="24" fill="#CBFF1E"/><g stroke="#1DB87E" stroke-width="0.8"><path d="M-10.0 -11 V9"/><path d="M-7.6 -11 V9"/><path d="M-5.2 -11 V9"/><path d="M-2.8 -11 V9"/><path d="M-0.4 -11 V9"/><path d="M2.0 -11 V9"/><path d="M4.4 -11 V9"/><path d="M6.8 -11 V9"/><path d="M9.2 -11 V9"/><path d="M11.6 -11 V9"/></g><rect x="2" y="-6" width="5" height="5" fill="#1B7F8F"/></g><circle cx="642" cy="475.5" r="8.2" fill="none" stroke="#2B0A3D" stroke-width="2.4"/><path stroke="#2B0A3D" stroke-width="3.4" stroke-linecap="round" d="M635.5 481 L620 487"/><g transform="translate(633.5 516.5) rotate(-8)"><rect x="-13" y="-13.5" width="26" height="27" fill="#FF6327"/><path fill="none" stroke="#fff" stroke-width="2" d="M-6 -9 V-5 a6 6 0 0 0 12 0 V-9"/><rect x="4" y="2" width="4" height="4" fill="#2B0A3D" transform="rotate(40 6 4)"/><rect x="0" y="7" width="3.4" height="3.4" fill="#2B0A3D" transform="rotate(40 2 9)"/></g><rect x="641" y="538" width="5" height="5" fill="#0070AD" transform="rotate(15 643 540)"/><g transform="translate(634 558) rotate(22)"><rect x="-12" y="-11" width="22" height="14" fill="#0070AD"/><rect x="-13" y="-7" width="24" height="17" rx="1.5" fill="#1B6F8F"/><rect x="-8" y="-2" width="5" height="4" fill="#12ABDB"/></g></svg><div class="t" style="left:638.9px;top:559.7px;font-size:11px;line-height:13px;color:#fff;font-weight:700;transform:rotate(22deg);">$</div>
<div class="t" style="left:49.5px;top:509.9px;font-size:29.2px;line-height:35px;color:#FF304C;letter-spacing:-0.332px;font-weight:700;">Organizations realize the importance</div>
<div class="t" style="left:49.5px;top:542.9px;font-size:29.2px;line-height:35px;color:#FF304C;letter-spacing:-0.332px;font-weight:700;">of supply chain digitization</div>
<div class="t" style="left:48.7px;top:593.0px;font-size:19.3px;line-height:23px;color:#fff;letter-spacing:0.254px;-webkit-text-stroke:0.4px #fff;">One in two organizations say supply chain digitization is one of their top</div>
<div class="t" style="left:48.7px;top:615.0px;font-size:19.3px;line-height:23px;color:#fff;letter-spacing:0.254px;-webkit-text-stroke:0.4px #fff;">three priorities at an organizational level</div>
<div class="bx" style="left:48px;top:658.0px;width:674px;height:0;border-top:1px dotted #8d7a9c"></div><div class="t" style="left:48.5px;top:678.7px;font-size:16.6px;line-height:20px;color:#CBFF1E;letter-spacing:0.271px;font-weight:700;">Digital supply chain initiatives deliver the highest benefits compared to other</div>
<div class="t" style="left:48.5px;top:702.5px;font-size:16.6px;line-height:20px;color:#CBFF1E;letter-spacing:0.271px;font-weight:700;">functions</div>
<div class="t" style="left:48.5px;top:737.6px;font-size:16.6px;line-height:20px;color:#12ABDB;letter-spacing:0.218px;font-weight:700;">Average return on investment and payback period by function for organizations</div>
<div class="t" style="left:48.5px;top:761.4px;font-size:16.6px;line-height:20px;color:#12ABDB;letter-spacing:0.218px;font-weight:700;">implementing automation at scale</div>
<svg width="768" height="1300" viewBox="0 0 768 1300"><defs><clipPath id="cl1"><rect x="73.5" y="853.5" width="37.0" height="186.5"/></clipPath><clipPath id="cl1l0"><rect x="73.5" y="1014.1" width="18.5" height="11.8"/></clipPath><clipPath id="cl1r0"><rect x="92.0" y="1014.1" width="18.5" height="11.8"/></clipPath><clipPath id="cl1l1"><rect x="73.5" y="965.4" width="18.5" height="11.8"/></clipPath><clipPath id="cl1r1"><rect x="92.0" y="965.4" width="18.5" height="11.8"/></clipPath><clipPath id="cl1l2"><rect x="73.5" y="916.7" width="18.5" height="11.8"/></clipPath><clipPath id="cl1r2"><rect x="92.0" y="916.7" width="18.5" height="11.8"/></clipPath><clipPath id="cl1l3"><rect x="73.5" y="868.0" width="18.5" height="11.8"/></clipPath><clipPath id="cl1r3"><rect x="92.0" y="868.0" width="18.5" height="11.8"/></clipPath><clipPath id="cl2"><rect x="104.7" y="915.7" width="37.0" height="124.3"/></clipPath><clipPath id="cl2l0"><rect x="104.7" y="1014.1" width="18.5" height="11.8"/></clipPath><clipPath id="cl2r0"><rect x="123.2" y="1014.1" width="18.5" height="11.8"/></clipPath><clipPath id="cl2l1"><rect x="104.7" y="965.4" width="18.5" height="11.8"/></clipPath><clipPath id="cl2r1"><rect x="123.2" y="965.4" width="18.5" height="11.8"/></clipPath><clipPath id="cl2l2"><rect x="104.7" y="916.7" width="18.5" height="11.8"/></clipPath><clipPath id="cl2r2"><rect x="123.2" y="916.7" width="18.5" height="11.8"/></clipPath><clipPath id="cl3"><rect x="168.8" y="884.6" width="37.0" height="155.4"/></clipPath><clipPath id="cl3l0"><rect x="168.8" y="1014.1" width="18.5" height="11.8"/></clipPath><clipPath id="cl3r0"><rect x="187.3" y="1014.1" width="18.5" height="11.8"/></clipPath><clipPath id="cl3l1"><rect x="168.8" y="965.4" width="18.5" height="11.8"/></clipPath><clipPath id="cl3r1"><rect x="187.3" y="965.4" width="18.5" height="11.8"/></clipPath><clipPath id="cl3l2"><rect x="168.8" y="916.7" width="18.5" height="11.8"/></clipPath><clipPath id="cl3r2"><rect x="187.3" y="916.7" width="18.5" height="11.8"/></clipPath><clipPath id="cl3l3"><rect x="168.8" y="868.0" width="18.5" height="11.8"/></clipPath><clipPath id="cl3r3"><rect x="187.3" y="868.0" width="18.5" height="11.8"/></clipPath><clipPath id="cl4"><rect x="200.0" y="926.0" width="37.0" height="114.0"/></clipPath><clipPath id="cl4l0"><rect x="200.0" y="1014.1" width="18.5" height="11.8"/></clipPath><clipPath id="cl4r0"><rect x="218.5" y="1014.1" width="18.5" height="11.8"/></clipPath><clipPath id="cl4l1"><rect x="200.0" y="965.4" width="18.5" height="11.8"/></clipPath><clipPath id="cl4r1"><rect x="218.5" y="965.4" width="18.5" height="11.8"/></clipPath><clipPath id="cl4l2"><rect x="200.0" y="916.7" width="18.5" height="11.8"/></clipPath><clipPath id="cl4r2"><rect x="218.5" y="916.7" width="18.5" height="11.8"/></clipPath><clipPath id="cl5"><rect x="264.2" y="895.0" width="37.0" height="145.0"/></clipPath><clipPath id="cl5l0"><rect x="264.2" y="1014.1" width="18.5" height="11.8"/></clipPath><clipPath id="cl5r0"><rect x="282.7" y="1014.1" width="18.5" height="11.8"/></clipPath><clipPath id="cl5l1"><rect x="264.2" y="965.4" width="18.5" height="11.8"/></clipPath><clipPath id="cl5r1"><rect x="282.7" y="965.4" width="18.5" height="11.8"/></clipPath><clipPath id="cl5l2"><rect x="264.2" y="916.7" width="18.5" height="11.8"/></clipPath><clipPath id="cl5r2"><rect x="282.7" y="916.7" width="18.5" height="11.8"/></clipPath><clipPath id="cl6"><rect x="295.4" y="936.4" width="37.0" height="103.6"/></clipPath><clipPath id="cl6l0"><rect x="295.4" y="1014.1" width="18.5" height="11.8"/></clipPath><clipPath id="cl6r0"><rect x="313.9" y="1014.1" width="18.5" height="11.8"/></clipPath><clipPath id="cl6l1"><rect x="295.4" y="965.4" width="18.5" height="11.8"/></clipPath><clipPath id="cl6r1"><rect x="313.9" y="965.4" width="18.5" height="11.8"/></clipPath><clipPath id="cl6l2"><rect x="295.4" y="916.7" width="18.5" height="11.8"/></clipPath><clipPath id="cl6r2"><rect x="313.9" y="916.7" width="18.5" height="11.8"/></clipPath><clipPath id="cl7"><rect x="359.5" y="915.7" width="37.0" height="124.3"/></clipPath><clipPath id="cl7l0"><rect x="359.5" y="1014.1" width="18.5" height="11.8"/></clipPath><clipPath id="cl7r0"><rect x="378.0" y="1014.1" width="18.5" height="11.8"/></clipPath><clipPath id="cl7l1"><rect x="359.5" y="965.4" width="18.5" height="11.8"/></clipPath><clipPath id="cl7r1"><rect x="378.0" y="965.4" width="18.5" height="11.8"/></clipPath><clipPath id="cl7l2"><rect x="359.5" y="916.7" width="18.5" height="11.8"/></clipPath><clipPath id="cl7r2"><rect x="378.0" y="916.7" width="18.5" height="11.8"/></clipPath><clipPath id="cl8"><rect x="390.7" y="926.0" width="37.0" height="114.0"/></clipPath><clipPath id="cl8l0"><rect x="390.7" y="1014.1" width="18.5" height="11.8"/></clipPath><clipPath id="cl8r0"><rect x="409.2" y="1014.1" width="18.5" height="11.8"/></clipPath><clipPath id="cl8l1"><rect x="390.7" y="965.4" width="18.5" height="11.8"/></clipPath><clipPath id="cl8r1"><rect x="409.2" y="965.4" width="18.5" height="11.8"/></clipPath><clipPath id="cl8l2"><rect x="390.7" y="916.7" width="18.5" height="11.8"/></clipPath><clipPath id="cl8r2"><rect x="409.2" y="916.7" width="18.5" height="11.8"/></clipPath><clipPath id="cl9"><rect x="454.8" y="915.7" width="37.0" height="124.3"/></clipPath><clipPath id="cl9l0"><rect x="454.8" y="1014.1" width="18.5" height="11.8"/></clipPath><clipPath id="cl9r0"><rect x="473.3" y="1014.1" width="18.5" height="11.8"/></clipPath><clipPath id="cl9l1"><rect x="454.8" y="965.4" width="18.5" height="11.8"/></clipPath><clipPath id="cl9r1"><rect x="473.3" y="965.4" width="18.5" height="11.8"/></clipPath><clipPath id="cl9l2"><rect x="454.8" y="916.7" width="18.5" height="11.8"/></clipPath><clipPath id="cl9r2"><rect x="473.3" y="916.7" width="18.5" height="11.8"/></clipPath><clipPath id="cl10"><rect x="486.0" y="967.5" width="37.0" height="72.5"/></clipPath><clipPath id="cl10l0"><rect x="486.0" y="1014.1" width="18.5" height="11.8"/></clipPath><clipPath id="cl10r0"><rect x="504.5" y="1014.1" width="18.5" height="11.8"/></clipPath><clipPath id="cl10l1"><rect x="486.0" y="965.4" width="18.5" height="11.8"/></clipPath><clipPath id="cl10r1"><rect x="504.5" y="965.4" width="18.5" height="11.8"/></clipPath><clipPath id="cl11"><rect x="550.1" y="905.3" width="37.0" height="134.7"/></clipPath><clipPath id="cl11l0"><rect x="550.1" y="1014.1" width="18.5" height="11.8"/></clipPath><clipPath id="cl11r0"><rect x="568.6" y="1014.1" width="18.5" height="11.8"/></clipPath><clipPath id="cl11l1"><rect x="550.1" y="965.4" width="18.5" height="11.8"/></clipPath><clipPath id="cl11r1"><rect x="568.6" y="965.4" width="18.5" height="11.8"/></clipPath><clipPath id="cl11l2"><rect x="550.1" y="916.7" width="18.5" height="11.8"/></clipPath><clipPath id="cl11r2"><rect x="568.6" y="916.7" width="18.5" height="11.8"/></clipPath><clipPath id="cl12"><rect x="581.4" y="946.8" width="37.0" height="93.2"/></clipPath><clipPath id="cl12l0"><rect x="581.4" y="1014.1" width="18.5" height="11.8"/></clipPath><clipPath id="cl12r0"><rect x="599.9" y="1014.1" width="18.5" height="11.8"/></clipPath><clipPath id="cl12l1"><rect x="581.4" y="965.4" width="18.5" height="11.8"/></clipPath><clipPath id="cl12r1"><rect x="599.9" y="965.4" width="18.5" height="11.8"/></clipPath><clipPath id="cl13"><rect x="645.5" y="905.3" width="37.0" height="134.7"/></clipPath><clipPath id="cl13l0"><rect x="645.5" y="1014.1" width="18.5" height="11.8"/></clipPath><clipPath id="cl13r0"><rect x="664.0" y="1014.1" width="18.5" height="11.8"/></clipPath><clipPath id="cl13l1"><rect x="645.5" y="965.4" width="18.5" height="11.8"/></clipPath><clipPath id="cl13r1"><rect x="664.0" y="965.4" width="18.5" height="11.8"/></clipPath><clipPath id="cl13l2"><rect x="645.5" y="916.7" width="18.5" height="11.8"/></clipPath><clipPath id="cl13r2"><rect x="664.0" y="916.7" width="18.5" height="11.8"/></clipPath><clipPath id="cl14"><rect x="676.7" y="936.4" width="37.0" height="103.6"/></clipPath><clipPath id="cl14l0"><rect x="676.7" y="1014.1" width="18.5" height="11.8"/></clipPath><clipPath id="cl14r0"><rect x="695.2" y="1014.1" width="18.5" height="11.8"/></clipPath><clipPath id="cl14l1"><rect x="676.7" y="965.4" width="18.5" height="11.8"/></clipPath><clipPath id="cl14r1"><rect x="695.2" y="965.4" width="18.5" height="11.8"/></clipPath><clipPath id="cl14l2"><rect x="676.7" y="916.7" width="18.5" height="11.8"/></clipPath><clipPath id="cl14r2"><rect x="695.2" y="916.7" width="18.5" height="11.8"/></clipPath></defs><g clip-path="url(#cl1)" fill="none" stroke-width="5.1"><rect x="85.30" y="1002.55" width="13.40" height="19.30" rx="6.70" stroke="#12ABDB" stroke-width="5.1"/><g clip-path="url(#cl1l0)"><rect x="85.30" y="1018.15" width="13.40" height="19.30" rx="6.70" stroke="#2B0A3D" stroke-width="7.699999999999999"/></g><rect x="85.30" y="1018.15" width="13.40" height="19.30" rx="6.70" stroke="#12ABDB" stroke-width="5.1"/><g clip-path="url(#cl1r0)"><rect x="85.30" y="1002.55" width="13.40" height="19.30" rx="6.70" stroke="#2B0A3D" stroke-width="7.699999999999999"/><rect x="85.30" y="1002.55" width="13.40" height="19.30" rx="6.70" stroke="#12ABDB" stroke-width="5.1"/></g><path d="M92.0 1004.6 V986.7" stroke="#12ABDB" stroke-width="3.0"/><rect x="85.30" y="953.85" width="13.40" height="19.30" rx="6.70" stroke="#12ABDB" stroke-width="5.1"/><g clip-path="url(#cl1l1)"><rect x="85.30" y="969.45" width="13.40" height="19.30" rx="6.70" stroke="#2B0A3D" stroke-width="7.699999999999999"/></g><rect x="85.30" y="969.45" width="13.40" height="19.30" rx="6.70" stroke="#12ABDB" stroke-width="5.1"/><g clip-path="url(#cl1r1)"><rect x="85.30" y="953.85" width="13.40" height="19.30" rx="6.70" stroke="#2B0A3D" stroke-width="7.699999999999999"/><rect x="85.30" y="953.85" width="13.40" height="19.30" rx="6.70" stroke="#12ABDB" stroke-width="5.1"/></g><path d="M92.0 955.9 V938.0" stroke="#12ABDB" stroke-width="3.0"/><rect x="85.30" y="905.15" width="13.40" height="19.30" rx="6.70" stroke="#12ABDB" stroke-width="5.1"/><g clip-path="url(#cl1l2)"><rect x="85.30" y="920.75" width="13.40" height="19.30" rx="6.70" stroke="#2B0A3D" stroke-width="7.699999999999999"/></g><rect x="85.30" y="920.75" width="13.40" height="19.30" rx="6.70" stroke="#12ABDB" stroke-width="5.1"/><g clip-path="url(#cl1r2)"><rect x="85.30" y="905.15" width="13.40" height="19.30" rx="6.70" stroke="#2B0A3D" stroke-width="7.699999999999999"/><rect x="85.30" y="905.15" width="13.40" height="19.30" rx="6.70" stroke="#12ABDB" stroke-width="5.1"/></g><path d="M92.0 907.2 V889.3" stroke="#12ABDB" stroke-width="3.0"/><rect x="85.30" y="856.45" width="13.40" height="19.30" rx="6.70" stroke="#12ABDB" stroke-width="5.1"/><g clip-path="url(#cl1l3)"><rect x="85.30" y="872.05" width="13.40" height="19.30" rx="6.70" stroke="#2B0A3D" stroke-width="7.699999999999999"/></g><rect x="85.30" y="872.05" width="13.40" height="19.30" rx="6.70" stroke="#12ABDB" stroke-width="5.1"/><g clip-path="url(#cl1r3)"><rect x="85.30" y="856.45" width="13.40" height="19.30" rx="6.70" stroke="#2B0A3D" stroke-width="7.699999999999999"/><rect x="85.30" y="856.45" width="13.40" height="19.30" rx="6.70" stroke="#12ABDB" stroke-width="5.1"/></g><path d="M92.0 858.5 V840.6" stroke="#12ABDB" stroke-width="3.0"/></g><g clip-path="url(#cl2)" fill="none" stroke-width="5.1"><rect x="116.50" y="1002.55" width="13.40" height="19.30" rx="6.70" stroke="#FF304C" stroke-width="5.1"/><g clip-path="url(#cl2l0)"><rect x="116.50" y="1018.15" width="13.40" height="19.30" rx="6.70" stroke="#2B0A3D" stroke-width="7.699999999999999"/></g><rect x="116.50" y="1018.15" width="13.40" height="19.30" rx="6.70" stroke="#FF304C" stroke-width="5.1"/><g clip-path="url(#cl2r0)"><rect x="116.50" y="1002.55" width="13.40" height="19.30" rx="6.70" stroke="#2B0A3D" stroke-width="7.699999999999999"/><rect x="116.50" y="1002.55" width="13.40" height="19.30" rx="6.70" stroke="#FF304C" stroke-width="5.1"/></g><path d="M123.2 1004.6 V986.7" stroke="#FF304C" stroke-width="3.0"/><rect x="116.50" y="953.85" width="13.40" height="19.30" rx="6.70" stroke="#FF304C" stroke-width="5.1"/><g clip-path="url(#cl2l1)"><rect x="116.50" y="969.45" width="13.40" height="19.30" rx="6.70" stroke="#2B0A3D" stroke-width="7.699999999999999"/></g><rect x="116.50" y="969.45" width="13.40" height="19.30" rx="6.70" stroke="#FF304C" stroke-width="5.1"/><g clip-path="url(#cl2r1)"><rect x="116.50" y="953.85" width="13.40" height="19.30" rx="6.70" stroke="#2B0A3D" stroke-width="7.699999999999999"/><rect x="116.50" y="953.85" width="13.40" height="19.30" rx="6.70" stroke="#FF304C" stroke-width="5.1"/></g><path d="M123.2 955.9 V938.0" stroke="#FF304C" stroke-width="3.0"/><rect x="116.50" y="905.15" width="13.40" height="19.30" rx="6.70" stroke="#FF304C" stroke-width="5.1"/><g clip-path="url(#cl2l2)"><rect x="116.50" y="920.75" width="13.40" height="19.30" rx="6.70" stroke="#2B0A3D" stroke-width="7.699999999999999"/></g><rect x="116.50" y="920.75" width="13.40" height="19.30" rx="6.70" stroke="#FF304C" stroke-width="5.1"/><g clip-path="url(#cl2r2)"><rect x="116.50" y="905.15" width="13.40" height="19.30" rx="6.70" stroke="#2B0A3D" stroke-width="7.699999999999999"/><rect x="116.50" y="905.15" width="13.40" height="19.30" rx="6.70" stroke="#FF304C" stroke-width="5.1"/></g><path d="M123.2 907.2 V889.3" stroke="#FF304C" stroke-width="3.0"/></g><g clip-path="url(#cl3)" fill="none" stroke-width="5.1"><rect x="180.63" y="1002.55" width="13.40" height="19.30" rx="6.70" stroke="#12ABDB" stroke-width="5.1"/><g clip-path="url(#cl3l0)"><rect x="180.63" y="1018.15" width="13.40" height="19.30" rx="6.70" stroke="#2B0A3D" stroke-width="7.699999999999999"/></g><rect x="180.63" y="1018.15" width="13.40" height="19.30" rx="6.70" stroke="#12ABDB" stroke-width="5.1"/><g clip-path="url(#cl3r0)"><rect x="180.63" y="1002.55" width="13.40" height="19.30" rx="6.70" stroke="#2B0A3D" stroke-width="7.699999999999999"/><rect x="180.63" y="1002.55" width="13.40" height="19.30" rx="6.70" stroke="#12ABDB" stroke-width="5.1"/></g><path d="M187.3 1004.6 V986.7" stroke="#12ABDB" stroke-width="3.0"/><rect x="180.63" y="953.85" width="13.40" height="19.30" rx="6.70" stroke="#12ABDB" stroke-width="5.1"/><g clip-path="url(#cl3l1)"><rect x="180.63" y="969.45" width="13.40" height="19.30" rx="6.70" stroke="#2B0A3D" stroke-width="7.699999999999999"/></g><rect x="180.63" y="969.45" width="13.40" height="19.30" rx="6.70" stroke="#12ABDB" stroke-width="5.1"/><g clip-path="url(#cl3r1)"><rect x="180.63" y="953.85" width="13.40" height="19.30" rx="6.70" stroke="#2B0A3D" stroke-width="7.699999999999999"/><rect x="180.63" y="953.85" width="13.40" height="19.30" rx="6.70" stroke="#12ABDB" stroke-width="5.1"/></g><path d="M187.3 955.9 V938.0" stroke="#12ABDB" stroke-width="3.0"/><rect x="180.63" y="905.15" width="13.40" height="19.30" rx="6.70" stroke="#12ABDB" stroke-width="5.1"/><g clip-path="url(#cl3l2)"><rect x="180.63" y="920.75" width="13.40" height="19.30" rx="6.70" stroke="#2B0A3D" stroke-width="7.699999999999999"/></g><rect x="180.63" y="920.75" width="13.40" height="19.30" rx="6.70" stroke="#12ABDB" stroke-width="5.1"/><g clip-path="url(#cl3r2)"><rect x="180.63" y="905.15" width="13.40" height="19.30" rx="6.70" stroke="#2B0A3D" stroke-width="7.699999999999999"/><rect x="180.63" y="905.15" width="13.40" height="19.30" rx="6.70" stroke="#12ABDB" stroke-width="5.1"/></g><path d="M187.3 907.2 V889.3" stroke="#12ABDB" stroke-width="3.0"/><rect x="180.63" y="856.45" width="13.40" height="19.30" rx="6.70" stroke="#12ABDB" stroke-width="5.1"/><g clip-path="url(#cl3l3)"><rect x="180.63" y="872.05" width="13.40" height="19.30" rx="6.70" stroke="#2B0A3D" stroke-width="7.699999999999999"/></g><rect x="180.63" y="872.05" width="13.40" height="19.30" rx="6.70" stroke="#12ABDB" stroke-width="5.1"/><g clip-path="url(#cl3r3)"><rect x="180.63" y="856.45" width="13.40" height="19.30" rx="6.70" stroke="#2B0A3D" stroke-width="7.699999999999999"/><rect x="180.63" y="856.45" width="13.40" height="19.30" rx="6.70" stroke="#12ABDB" stroke-width="5.1"/></g><path d="M187.3 858.5 V840.6" stroke="#12ABDB" stroke-width="3.0"/></g><g clip-path="url(#cl4)" fill="none" stroke-width="5.1"><rect x="211.83" y="1002.55" width="13.40" height="19.30" rx="6.70" stroke="#FF304C" stroke-width="5.1"/><g clip-path="url(#cl4l0)"><rect x="211.83" y="1018.15" width="13.40" height="19.30" rx="6.70" stroke="#2B0A3D" stroke-width="7.699999999999999"/></g><rect x="211.83" y="1018.15" width="13.40" height="19.30" rx="6.70" stroke="#FF304C" stroke-width="5.1"/><g clip-path="url(#cl4r0)"><rect x="211.83" y="1002.55" width="13.40" height="19.30" rx="6.70" stroke="#2B0A3D" stroke-width="7.699999999999999"/><rect x="211.83" y="1002.55" width="13.40" height="19.30" rx="6.70" stroke="#FF304C" stroke-width="5.1"/></g><path d="M218.5 1004.6 V986.7" stroke="#FF304C" stroke-width="3.0"/><rect x="211.83" y="953.85" width="13.40" height="19.30" rx="6.70" stroke="#FF304C" stroke-width="5.1"/><g clip-path="url(#cl4l1)"><rect x="211.83" y="969.45" width="13.40" height="19.30" rx="6.70" stroke="#2B0A3D" stroke-width="7.699999999999999"/></g><rect x="211.83" y="969.45" width="13.40" height="19.30" rx="6.70" stroke="#FF304C" stroke-width="5.1"/><g clip-path="url(#cl4r1)"><rect x="211.83" y="953.85" width="13.40" height="19.30" rx="6.70" stroke="#2B0A3D" stroke-width="7.699999999999999"/><rect x="211.83" y="953.85" width="13.40" height="19.30" rx="6.70" stroke="#FF304C" stroke-width="5.1"/></g><path d="M218.5 955.9 V938.0" stroke="#FF304C" stroke-width="3.0"/><rect x="211.83" y="905.15" width="13.40" height="19.30" rx="6.70" stroke="#FF304C" stroke-width="5.1"/><g clip-path="url(#cl4l2)"><rect x="211.83" y="920.75" width="13.40" height="19.30" rx="6.70" stroke="#2B0A3D" stroke-width="7.699999999999999"/></g><rect x="211.83" y="920.75" width="13.40" height="19.30" rx="6.70" stroke="#FF304C" stroke-width="5.1"/><g clip-path="url(#cl4r2)"><rect x="211.83" y="905.15" width="13.40" height="19.30" rx="6.70" stroke="#2B0A3D" stroke-width="7.699999999999999"/><rect x="211.83" y="905.15" width="13.40" height="19.30" rx="6.70" stroke="#FF304C" stroke-width="5.1"/></g><path d="M218.5 907.2 V889.3" stroke="#FF304C" stroke-width="3.0"/></g><g clip-path="url(#cl5)" fill="none" stroke-width="5.1"><rect x="275.96" y="1002.55" width="13.40" height="19.30" rx="6.70" stroke="#12ABDB" stroke-width="5.1"/><g clip-path="url(#cl5l0)"><rect x="275.96" y="1018.15" width="13.40" height="19.30" rx="6.70" stroke="#2B0A3D" stroke-width="7.699999999999999"/></g><rect x="275.96" y="1018.15" width="13.40" height="19.30" rx="6.70" stroke="#12ABDB" stroke-width="5.1"/><g clip-path="url(#cl5r0)"><rect x="275.96" y="1002.55" width="13.40" height="19.30" rx="6.70" stroke="#2B0A3D" stroke-width="7.699999999999999"/><rect x="275.96" y="1002.55" width="13.40" height="19.30" rx="6.70" stroke="#12ABDB" stroke-width="5.1"/></g><path d="M282.7 1004.6 V986.7" stroke="#12ABDB" stroke-width="3.0"/><rect x="275.96" y="953.85" width="13.40" height="19.30" rx="6.70" stroke="#12ABDB" stroke-width="5.1"/><g clip-path="url(#cl5l1)"><rect x="275.96" y="969.45" width="13.40" height="19.30" rx="6.70" stroke="#2B0A3D" stroke-width="7.699999999999999"/></g><rect x="275.96" y="969.45" width="13.40" height="19.30" rx="6.70" stroke="#12ABDB" stroke-width="5.1"/><g clip-path="url(#cl5r1)"><rect x="275.96" y="953.85" width="13.40" height="19.30" rx="6.70" stroke="#2B0A3D" stroke-width="7.699999999999999"/><rect x="275.96" y="953.85" width="13.40" height="19.30" rx="6.70" stroke="#12ABDB" stroke-width="5.1"/></g><path d="M282.7 955.9 V938.0" stroke="#12ABDB" stroke-width="3.0"/><rect x="275.96" y="905.15" width="13.40" height="19.30" rx="6.70" stroke="#12ABDB" stroke-width="5.1"/><g clip-path="url(#cl5l2)"><rect x="275.96" y="920.75" width="13.40" height="19.30" rx="6.70" stroke="#2B0A3D" stroke-width="7.699999999999999"/></g><rect x="275.96" y="920.75" width="13.40" height="19.30" rx="6.70" stroke="#12ABDB" stroke-width="5.1"/><g clip-path="url(#cl5r2)"><rect x="275.96" y="905.15" width="13.40" height="19.30" rx="6.70" stroke="#2B0A3D" stroke-width="7.699999999999999"/><rect x="275.96" y="905.15" width="13.40" height="19.30" rx="6.70" stroke="#12ABDB" stroke-width="5.1"/></g><path d="M282.7 907.2 V889.3" stroke="#12ABDB" stroke-width="3.0"/></g><g clip-path="url(#cl6)" fill="none" stroke-width="5.1"><rect x="307.16" y="1002.55" width="13.40" height="19.30" rx="6.70" stroke="#FF304C" stroke-width="5.1"/><g clip-path="url(#cl6l0)"><rect x="307.16" y="1018.15" width="13.40" height="19.30" rx="6.70" stroke="#2B0A3D" stroke-width="7.699999999999999"/></g><rect x="307.16" y="1018.15" width="13.40" height="19.30" rx="6.70" stroke="#FF304C" stroke-width="5.1"/><g clip-path="url(#cl6r0)"><rect x="307.16" y="1002.55" width="13.40" height="19.30" rx="6.70" stroke="#2B0A3D" stroke-width="7.699999999999999"/><rect x="307.16" y="1002.55" width="13.40" height="19.30" rx="6.70" stroke="#FF304C" stroke-width="5.1"/></g><path d="M313.9 1004.6 V986.7" stroke="#FF304C" stroke-width="3.0"/><rect x="307.16" y="953.85" width="13.40" height="19.30" rx="6.70" stroke="#FF304C" stroke-width="5.1"/><g clip-path="url(#cl6l1)"><rect x="307.16" y="969.45" width="13.40" height="19.30" rx="6.70" stroke="#2B0A3D" stroke-width="7.699999999999999"/></g><rect x="307.16" y="969.45" width="13.40" height="19.30" rx="6.70" stroke="#FF304C" stroke-width="5.1"/><g clip-path="url(#cl6r1)"><rect x="307.16" y="953.85" width="13.40" height="19.30" rx="6.70" stroke="#2B0A3D" stroke-width="7.699999999999999"/><rect x="307.16" y="953.85" width="13.40" height="19.30" rx="6.70" stroke="#FF304C" stroke-width="5.1"/></g><path d="M313.9 955.9 V938.0" stroke="#FF304C" stroke-width="3.0"/><rect x="307.16" y="905.15" width="13.40" height="19.30" rx="6.70" stroke="#FF304C" stroke-width="5.1"/><g clip-path="url(#cl6l2)"><rect x="307.16" y="920.75" width="13.40" height="19.30" rx="6.70" stroke="#2B0A3D" stroke-width="7.699999999999999"/></g><rect x="307.16" y="920.75" width="13.40" height="19.30" rx="6.70" stroke="#FF304C" stroke-width="5.1"/><g clip-path="url(#cl6r2)"><rect x="307.16" y="905.15" width="13.40" height="19.30" rx="6.70" stroke="#2B0A3D" stroke-width="7.699999999999999"/><rect x="307.16" y="905.15" width="13.40" height="19.30" rx="6.70" stroke="#FF304C" stroke-width="5.1"/></g><path d="M313.9 907.2 V889.3" stroke="#FF304C" stroke-width="3.0"/></g><g clip-path="url(#cl7)" fill="none" stroke-width="5.1"><rect x="371.29" y="1002.55" width="13.40" height="19.30" rx="6.70" stroke="#12ABDB" stroke-width="5.1"/><g clip-path="url(#cl7l0)"><rect x="371.29" y="1018.15" width="13.40" height="19.30" rx="6.70" stroke="#2B0A3D" stroke-width="7.699999999999999"/></g><rect x="371.29" y="1018.15" width="13.40" height="19.30" rx="6.70" stroke="#12ABDB" stroke-width="5.1"/><g clip-path="url(#cl7r0)"><rect x="371.29" y="1002.55" width="13.40" height="19.30" rx="6.70" stroke="#2B0A3D" stroke-width="7.699999999999999"/><rect x="371.29" y="1002.55" width="13.40" height="19.30" rx="6.70" stroke="#12ABDB" stroke-width="5.1"/></g><path d="M378.0 1004.6 V986.7" stroke="#12ABDB" stroke-width="3.0"/><rect x="371.29" y="953.85" width="13.40" height="19.30" rx="6.70" stroke="#12ABDB" stroke-width="5.1"/><g clip-path="url(#cl7l1)"><rect x="371.29" y="969.45" width="13.40" height="19.30" rx="6.70" stroke="#2B0A3D" stroke-width="7.699999999999999"/></g><rect x="371.29" y="969.45" width="13.40" height="19.30" rx="6.70" stroke="#12ABDB" stroke-width="5.1"/><g clip-path="url(#cl7r1)"><rect x="371.29" y="953.85" width="13.40" height="19.30" rx="6.70" stroke="#2B0A3D" stroke-width="7.699999999999999"/><rect x="371.29" y="953.85" width="13.40" height="19.30" rx="6.70" stroke="#12ABDB" stroke-width="5.1"/></g><path d="M378.0 955.9 V938.0" stroke="#12ABDB" stroke-width="3.0"/><rect x="371.29" y="905.15" width="13.40" height="19.30" rx="6.70" stroke="#12ABDB" stroke-width="5.1"/><g clip-path="url(#cl7l2)"><rect x="371.29" y="920.75" width="13.40" height="19.30" rx="6.70" stroke="#2B0A3D" stroke-width="7.699999999999999"/></g><rect x="371.29" y="920.75" width="13.40" height="19.30" rx="6.70" stroke="#12ABDB" stroke-width="5.1"/><g clip-path="url(#cl7r2)"><rect x="371.29" y="905.15" width="13.40" height="19.30" rx="6.70" stroke="#2B0A3D" stroke-width="7.699999999999999"/><rect x="371.29" y="905.15" width="13.40" height="19.30" rx="6.70" stroke="#12ABDB" stroke-width="5.1"/></g><path d="M378.0 907.2 V889.3" stroke="#12ABDB" stroke-width="3.0"/></g><g clip-path="url(#cl8)" fill="none" stroke-width="5.1"><rect x="402.49" y="1002.55" width="13.40" height="19.30" rx="6.70" stroke="#FF304C" stroke-width="5.1"/><g clip-path="url(#cl8l0)"><rect x="402.49" y="1018.15" width="13.40" height="19.30" rx="6.70" stroke="#2B0A3D" stroke-width="7.699999999999999"/></g><rect x="402.49" y="1018.15" width="13.40" height="19.30" rx="6.70" stroke="#FF304C" stroke-width="5.1"/><g clip-path="url(#cl8r0)"><rect x="402.49" y="1002.55" width="13.40" height="19.30" rx="6.70" stroke="#2B0A3D" stroke-width="7.699999999999999"/><rect x="402.49" y="1002.55" width="13.40" height="19.30" rx="6.70" stroke="#FF304C" stroke-width="5.1"/></g><path d="M409.2 1004.6 V986.7" stroke="#FF304C" stroke-width="3.0"/><rect x="402.49" y="953.85" width="13.40" height="19.30" rx="6.70" stroke="#FF304C" stroke-width="5.1"/><g clip-path="url(#cl8l1)"><rect x="402.49" y="969.45" width="13.40" height="19.30" rx="6.70" stroke="#2B0A3D" stroke-width="7.699999999999999"/></g><rect x="402.49" y="969.45" width="13.40" height="19.30" rx="6.70" stroke="#FF304C" stroke-width="5.1"/><g clip-path="url(#cl8r1)"><rect x="402.49" y="953.85" width="13.40" height="19.30" rx="6.70" stroke="#2B0A3D" stroke-width="7.699999999999999"/><rect x="402.49" y="953.85" width="13.40" height="19.30" rx="6.70" stroke="#FF304C" stroke-width="5.1"/></g><path d="M409.2 955.9 V938.0" stroke="#FF304C" stroke-width="3.0"/><rect x="402.49" y="905.15" width="13.40" height="19.30" rx="6.70" stroke="#FF304C" stroke-width="5.1"/><g clip-path="url(#cl8l2)"><rect x="402.49" y="920.75" width="13.40" height="19.30" rx="6.70" stroke="#2B0A3D" stroke-width="7.699999999999999"/></g><rect x="402.49" y="920.75" width="13.40" height="19.30" rx="6.70" stroke="#FF304C" stroke-width="5.1"/><g clip-path="url(#cl8r2)"><rect x="402.49" y="905.15" width="13.40" height="19.30" rx="6.70" stroke="#2B0A3D" stroke-width="7.699999999999999"/><rect x="402.49" y="905.15" width="13.40" height="19.30" rx="6.70" stroke="#FF304C" stroke-width="5.1"/></g><path d="M409.2 907.2 V889.3" stroke="#FF304C" stroke-width="3.0"/></g><g clip-path="url(#cl9)" fill="none" stroke-width="5.1"><rect x="466.62" y="1002.55" width="13.40" height="19.30" rx="6.70" stroke="#12ABDB" stroke-width="5.1"/><g clip-path="url(#cl9l0)"><rect x="466.62" y="1018.15" width="13.40" height="19.30" rx="6.70" stroke="#2B0A3D" stroke-width="7.699999999999999"/></g><rect x="466.62" y="1018.15" width="13.40" height="19.30" rx="6.70" stroke="#12ABDB" stroke-width="5.1"/><g clip-path="url(#cl9r0)"><rect x="466.62" y="1002.55" width="13.40" height="19.30" rx="6.70" stroke="#2B0A3D" stroke-width="7.699999999999999"/><rect x="466.62" y="1002.55" width="13.40" height="19.30" rx="6.70" stroke="#12ABDB" stroke-width="5.1"/></g><path d="M473.3 1004.6 V986.7" stroke="#12ABDB" stroke-width="3.0"/><rect x="466.62" y="953.85" width="13.40" height="19.30" rx="6.70" stroke="#12ABDB" stroke-width="5.1"/><g clip-path="url(#cl9l1)"><rect x="466.62" y="969.45" width="13.40" height="19.30" rx="6.70" stroke="#2B0A3D" stroke-width="7.699999999999999"/></g><rect x="466.62" y="969.45" width="13.40" height="19.30" rx="6.70" stroke="#12ABDB" stroke-width="5.1"/><g clip-path="url(#cl9r1)"><rect x="466.62" y="953.85" width="13.40" height="19.30" rx="6.70" stroke="#2B0A3D" stroke-width="7.699999999999999"/><rect x="466.62" y="953.85" width="13.40" height="19.30" rx="6.70" stroke="#12ABDB" stroke-width="5.1"/></g><path d="M473.3 955.9 V938.0" stroke="#12ABDB" stroke-width="3.0"/><rect x="466.62" y="905.15" width="13.40" height="19.30" rx="6.70" stroke="#12ABDB" stroke-width="5.1"/><g clip-path="url(#cl9l2)"><rect x="466.62" y="920.75" width="13.40" height="19.30" rx="6.70" stroke="#2B0A3D" stroke-width="7.699999999999999"/></g><rect x="466.62" y="920.75" width="13.40" height="19.30" rx="6.70" stroke="#12ABDB" stroke-width="5.1"/><g clip-path="url(#cl9r2)"><rect x="466.62" y="905.15" width="13.40" height="19.30" rx="6.70" stroke="#2B0A3D" stroke-width="7.699999999999999"/><rect x="466.62" y="905.15" width="13.40" height="19.30" rx="6.70" stroke="#12ABDB" stroke-width="5.1"/></g><path d="M473.3 907.2 V889.3" stroke="#12ABDB" stroke-width="3.0"/></g><g clip-path="url(#cl10)" fill="none" stroke-width="5.1"><rect x="497.82" y="1002.55" width="13.40" height="19.30" rx="6.70" stroke="#FF304C" stroke-width="5.1"/><g clip-path="url(#cl10l0)"><rect x="497.82" y="1018.15" width="13.40" height="19.30" rx="6.70" stroke="#2B0A3D" stroke-width="7.699999999999999"/></g><rect x="497.82" y="1018.15" width="13.40" height="19.30" rx="6.70" stroke="#FF304C" stroke-width="5.1"/><g clip-path="url(#cl10r0)"><rect x="497.82" y="1002.55" width="13.40" height="19.30" rx="6.70" stroke="#2B0A3D" stroke-width="7.699999999999999"/><rect x="497.82" y="1002.55" width="13.40" height="19.30" rx="6.70" stroke="#FF304C" stroke-width="5.1"/></g><path d="M504.5 1004.6 V986.7" stroke="#FF304C" stroke-width="3.0"/><rect x="497.82" y="953.85" width="13.40" height="19.30" rx="6.70" stroke="#FF304C" stroke-width="5.1"/><g clip-path="url(#cl10l1)"><rect x="497.82" y="969.45" width="13.40" height="19.30" rx="6.70" stroke="#2B0A3D" stroke-width="7.699999999999999"/></g><rect x="497.82" y="969.45" width="13.40" height="19.30" rx="6.70" stroke="#FF304C" stroke-width="5.1"/><g clip-path="url(#cl10r1)"><rect x="497.82" y="953.85" width="13.40" height="19.30" rx="6.70" stroke="#2B0A3D" stroke-width="7.699999999999999"/><rect x="497.82" y="953.85" width="13.40" height="19.30" rx="6.70" stroke="#FF304C" stroke-width="5.1"/></g><path d="M504.5 955.9 V938.0" stroke="#FF304C" stroke-width="3.0"/></g><g clip-path="url(#cl11)" fill="none" stroke-width="5.1"><rect x="561.95" y="1002.55" width="13.40" height="19.30" rx="6.70" stroke="#12ABDB" stroke-width="5.1"/><g clip-path="url(#cl11l0)"><rect x="561.95" y="1018.15" width="13.40" height="19.30" rx="6.70" stroke="#2B0A3D" stroke-width="7.699999999999999"/></g><rect x="561.95" y="1018.15" width="13.40" height="19.30" rx="6.70" stroke="#12ABDB" stroke-width="5.1"/><g clip-path="url(#cl11r0)"><rect x="561.95" y="1002.55" width="13.40" height="19.30" rx="6.70" stroke="#2B0A3D" stroke-width="7.699999999999999"/><rect x="561.95" y="1002.55" width="13.40" height="19.30" rx="6.70" stroke="#12ABDB" stroke-width="5.1"/></g><path d="M568.6 1004.6 V986.7" stroke="#12ABDB" stroke-width="3.0"/><rect x="561.95" y="953.85" width="13.40" height="19.30" rx="6.70" stroke="#12ABDB" stroke-width="5.1"/><g clip-path="url(#cl11l1)"><rect x="561.95" y="969.45" width="13.40" height="19.30" rx="6.70" stroke="#2B0A3D" stroke-width="7.699999999999999"/></g><rect x="561.95" y="969.45" width="13.40" height="19.30" rx="6.70" stroke="#12ABDB" stroke-width="5.1"/><g clip-path="url(#cl11r1)"><rect x="561.95" y="953.85" width="13.40" height="19.30" rx="6.70" stroke="#2B0A3D" stroke-width="7.699999999999999"/><rect x="561.95" y="953.85" width="13.40" height="19.30" rx="6.70" stroke="#12ABDB" stroke-width="5.1"/></g><path d="M568.6 955.9 V938.0" stroke="#12ABDB" stroke-width="3.0"/><rect x="561.95" y="905.15" width="13.40" height="19.30" rx="6.70" stroke="#12ABDB" stroke-width="5.1"/><g clip-path="url(#cl11l2)"><rect x="561.95" y="920.75" width="13.40" height="19.30" rx="6.70" stroke="#2B0A3D" stroke-width="7.699999999999999"/></g><rect x="561.95" y="920.75" width="13.40" height="19.30" rx="6.70" stroke="#12ABDB" stroke-width="5.1"/><g clip-path="url(#cl11r2)"><rect x="561.95" y="905.15" width="13.40" height="19.30" rx="6.70" stroke="#2B0A3D" stroke-width="7.699999999999999"/><rect x="561.95" y="905.15" width="13.40" height="19.30" rx="6.70" stroke="#12ABDB" stroke-width="5.1"/></g><path d="M568.6 907.2 V889.3" stroke="#12ABDB" stroke-width="3.0"/></g><g clip-path="url(#cl12)" fill="none" stroke-width="5.1"><rect x="593.15" y="1002.55" width="13.40" height="19.30" rx="6.70" stroke="#FF304C" stroke-width="5.1"/><g clip-path="url(#cl12l0)"><rect x="593.15" y="1018.15" width="13.40" height="19.30" rx="6.70" stroke="#2B0A3D" stroke-width="7.699999999999999"/></g><rect x="593.15" y="1018.15" width="13.40" height="19.30" rx="6.70" stroke="#FF304C" stroke-width="5.1"/><g clip-path="url(#cl12r0)"><rect x="593.15" y="1002.55" width="13.40" height="19.30" rx="6.70" stroke="#2B0A3D" stroke-width="7.699999999999999"/><rect x="593.15" y="1002.55" width="13.40" height="19.30" rx="6.70" stroke="#FF304C" stroke-width="5.1"/></g><path d="M599.9 1004.6 V986.7" stroke="#FF304C" stroke-width="3.0"/><rect x="593.15" y="953.85" width="13.40" height="19.30" rx="6.70" stroke="#FF304C" stroke-width="5.1"/><g clip-path="url(#cl12l1)"><rect x="593.15" y="969.45" width="13.40" height="19.30" rx="6.70" stroke="#2B0A3D" stroke-width="7.699999999999999"/></g><rect x="593.15" y="969.45" width="13.40" height="19.30" rx="6.70" stroke="#FF304C" stroke-width="5.1"/><g clip-path="url(#cl12r1)"><rect x="593.15" y="953.85" width="13.40" height="19.30" rx="6.70" stroke="#2B0A3D" stroke-width="7.699999999999999"/><rect x="593.15" y="953.85" width="13.40" height="19.30" rx="6.70" stroke="#FF304C" stroke-width="5.1"/></g><path d="M599.9 955.9 V938.0" stroke="#FF304C" stroke-width="3.0"/></g><g clip-path="url(#cl13)" fill="none" stroke-width="5.1"><rect x="657.28" y="1002.55" width="13.40" height="19.30" rx="6.70" stroke="#12ABDB" stroke-width="5.1"/><g clip-path="url(#cl13l0)"><rect x="657.28" y="1018.15" width="13.40" height="19.30" rx="6.70" stroke="#2B0A3D" stroke-width="7.699999999999999"/></g><rect x="657.28" y="1018.15" width="13.40" height="19.30" rx="6.70" stroke="#12ABDB" stroke-width="5.1"/><g clip-path="url(#cl13r0)"><rect x="657.28" y="1002.55" width="13.40" height="19.30" rx="6.70" stroke="#2B0A3D" stroke-width="7.699999999999999"/><rect x="657.28" y="1002.55" width="13.40" height="19.30" rx="6.70" stroke="#12ABDB" stroke-width="5.1"/></g><path d="M664.0 1004.6 V986.7" stroke="#12ABDB" stroke-width="3.0"/><rect x="657.28" y="953.85" width="13.40" height="19.30" rx="6.70" stroke="#12ABDB" stroke-width="5.1"/><g clip-path="url(#cl13l1)"><rect x="657.28" y="969.45" width="13.40" height="19.30" rx="6.70" stroke="#2B0A3D" stroke-width="7.699999999999999"/></g><rect x="657.28" y="969.45" width="13.40" height="19.30" rx="6.70" stroke="#12ABDB" stroke-width="5.1"/><g clip-path="url(#cl13r1)"><rect x="657.28" y="953.85" width="13.40" height="19.30" rx="6.70" stroke="#2B0A3D" stroke-width="7.699999999999999"/><rect x="657.28" y="953.85" width="13.40" height="19.30" rx="6.70" stroke="#12ABDB" stroke-width="5.1"/></g><path d="M664.0 955.9 V938.0" stroke="#12ABDB" stroke-width="3.0"/><rect x="657.28" y="905.15" width="13.40" height="19.30" rx="6.70" stroke="#12ABDB" stroke-width="5.1"/><g clip-path="url(#cl13l2)"><rect x="657.28" y="920.75" width="13.40" height="19.30" rx="6.70" stroke="#2B0A3D" stroke-width="7.699999999999999"/></g><rect x="657.28" y="920.75" width="13.40" height="19.30" rx="6.70" stroke="#12ABDB" stroke-width="5.1"/><g clip-path="url(#cl13r2)"><rect x="657.28" y="905.15" width="13.40" height="19.30" rx="6.70" stroke="#2B0A3D" stroke-width="7.699999999999999"/><rect x="657.28" y="905.15" width="13.40" height="19.30" rx="6.70" stroke="#12ABDB" stroke-width="5.1"/></g><path d="M664.0 907.2 V889.3" stroke="#12ABDB" stroke-width="3.0"/></g><g clip-path="url(#cl14)" fill="none" stroke-width="5.1"><rect x="688.48" y="1002.55" width="13.40" height="19.30" rx="6.70" stroke="#FF304C" stroke-width="5.1"/><g clip-path="url(#cl14l0)"><rect x="688.48" y="1018.15" width="13.40" height="19.30" rx="6.70" stroke="#2B0A3D" stroke-width="7.699999999999999"/></g><rect x="688.48" y="1018.15" width="13.40" height="19.30" rx="6.70" stroke="#FF304C" stroke-width="5.1"/><g clip-path="url(#cl14r0)"><rect x="688.48" y="1002.55" width="13.40" height="19.30" rx="6.70" stroke="#2B0A3D" stroke-width="7.699999999999999"/><rect x="688.48" y="1002.55" width="13.40" height="19.30" rx="6.70" stroke="#FF304C" stroke-width="5.1"/></g><path d="M695.2 1004.6 V986.7" stroke="#FF304C" stroke-width="3.0"/><rect x="688.48" y="953.85" width="13.40" height="19.30" rx="6.70" stroke="#FF304C" stroke-width="5.1"/><g clip-path="url(#cl14l1)"><rect x="688.48" y="969.45" width="13.40" height="19.30" rx="6.70" stroke="#2B0A3D" stroke-width="7.699999999999999"/></g><rect x="688.48" y="969.45" width="13.40" height="19.30" rx="6.70" stroke="#FF304C" stroke-width="5.1"/><g clip-path="url(#cl14r1)"><rect x="688.48" y="953.85" width="13.40" height="19.30" rx="6.70" stroke="#2B0A3D" stroke-width="7.699999999999999"/><rect x="688.48" y="953.85" width="13.40" height="19.30" rx="6.70" stroke="#FF304C" stroke-width="5.1"/></g><path d="M695.2 955.9 V938.0" stroke="#FF304C" stroke-width="3.0"/><rect x="688.48" y="905.15" width="13.40" height="19.30" rx="6.70" stroke="#FF304C" stroke-width="5.1"/><g clip-path="url(#cl14l2)"><rect x="688.48" y="920.75" width="13.40" height="19.30" rx="6.70" stroke="#2B0A3D" stroke-width="7.699999999999999"/></g><rect x="688.48" y="920.75" width="13.40" height="19.30" rx="6.70" stroke="#FF304C" stroke-width="5.1"/><g clip-path="url(#cl14r2)"><rect x="688.48" y="905.15" width="13.40" height="19.30" rx="6.70" stroke="#2B0A3D" stroke-width="7.699999999999999"/><rect x="688.48" y="905.15" width="13.40" height="19.30" rx="6.70" stroke="#FF304C" stroke-width="5.1"/></g><path d="M695.2 907.2 V889.3" stroke="#FF304C" stroke-width="3.0"/></g><path d="M59 1045.5 H722" stroke="#cfc6d8" stroke-width="1"/><rect x="61" y="816" width="90" height="332" fill="none" stroke="#F2E82E" stroke-width="2.5" stroke-linecap="round" stroke-dasharray="0.1 6.2"/><rect x="206" y="1168" width="15" height="9.5" rx="4.75" fill="none" stroke="#12ABDB" stroke-width="2.4"/><rect x="216" y="1168" width="15" height="9.5" rx="4.75" fill="none" stroke="#12ABDB" stroke-width="2.4"/><rect x="350" y="1168" width="15" height="9.5" rx="4.75" fill="none" stroke="#FF304C" stroke-width="2.4"/><rect x="360" y="1168" width="15" height="9.5" rx="4.75" fill="none" stroke="#FF304C" stroke-width="2.4"/></svg><div class="t" style="left:84.2px;top:831.6px;font-size:14px;line-height:17px;color:#fff;font-weight:700;">18</div>
<div class="t" style="left:115.4px;top:888.3px;font-size:14px;line-height:17px;color:#fff;font-weight:700;">12</div>
<div class="t" style="left:68.9px;top:1050.9px;font-size:13.3px;line-height:16px;color:#fff;">Procurement</div>
<div class="t" style="left:95.9px;top:1067.1px;font-size:13.3px;line-height:16px;color:#fff;">and</div>
<div class="t" style="left:67.4px;top:1083.3px;font-size:13.3px;line-height:16px;color:#fff;">Supply Chain</div>
<div class="t" style="left:179.5px;top:859.6px;font-size:14px;line-height:17px;color:#fff;font-weight:700;">15</div>
<div class="t" style="left:211.1px;top:898.1px;font-size:14px;line-height:17px;color:#fff;font-weight:700;">11</div>
<div class="t" style="left:180.9px;top:1050.9px;font-size:13.3px;line-height:16px;color:#fff;">Human</div>
<div class="t" style="left:170.5px;top:1067.1px;font-size:13.3px;line-height:16px;color:#fff;">Resources</div>
<div class="t" style="left:274.9px;top:872.3px;font-size:14px;line-height:17px;color:#fff;font-weight:700;">14</div>
<div class="t" style="left:306.1px;top:914.6px;font-size:14px;line-height:17px;color:#fff;font-weight:700;">10</div>
<div class="t" style="left:264.4px;top:1050.9px;font-size:13.3px;line-height:16px;color:#fff;">Information</div>
<div class="t" style="left:264.0px;top:1067.1px;font-size:13.3px;line-height:16px;color:#fff;">Technology</div>
<div class="t" style="left:370.2px;top:887.6px;font-size:14px;line-height:17px;color:#fff;font-weight:700;">12</div>
<div class="t" style="left:401.8px;top:899.1px;font-size:14px;line-height:17px;color:#fff;font-weight:700;">11</div>
<div class="t" style="left:369.3px;top:1050.9px;font-size:13.3px;line-height:16px;color:#fff;">Finance</div>
<div class="t" style="left:381.9px;top:1067.1px;font-size:13.3px;line-height:16px;color:#fff;">and</div>
<div class="t" style="left:360.1px;top:1083.3px;font-size:13.3px;line-height:16px;color:#fff;">Accounting</div>
<div class="t" style="left:465.5px;top:887.6px;font-size:14px;line-height:17px;color:#fff;font-weight:700;">12</div>
<div class="t" style="left:500.6px;top:945.8px;font-size:14px;line-height:17px;color:#fff;font-weight:700;">7</div>
<div class="t" style="left:459.9px;top:1050.9px;font-size:13.3px;line-height:16px;color:#fff;">Research</div>
<div class="t" style="left:477.2px;top:1067.1px;font-size:13.3px;line-height:16px;color:#fff;">and</div>
<div class="t" style="left:449.1px;top:1083.3px;font-size:13.3px;line-height:16px;color:#fff;">Development</div>
<div class="t" style="left:560.9px;top:883.4px;font-size:14px;line-height:17px;color:#fff;font-weight:700;">13</div>
<div class="t" style="left:596.0px;top:922.0px;font-size:14px;line-height:17px;color:#fff;font-weight:700;">9</div>
<div class="t" style="left:554.8px;top:1050.9px;font-size:13.3px;line-height:16px;color:#fff;">Customer</div>
<div class="t" style="left:559.6px;top:1067.1px;font-size:13.3px;line-height:16px;color:#fff;">Service/</div>
<div class="t" style="left:559.6px;top:1083.3px;font-size:13.3px;line-height:16px;color:#fff;">Account</div>
<div class="t" style="left:543.0px;top:1099.5px;font-size:13.3px;line-height:16px;color:#fff;">Management/</div>
<div class="t" style="left:554.8px;top:1115.7px;font-size:13.3px;line-height:16px;color:#fff;">Customer</div>
<div class="t" style="left:550.4px;top:1131.9px;font-size:13.3px;line-height:16px;color:#fff;">Experience</div>
<div class="t" style="left:656.2px;top:883.4px;font-size:14px;line-height:17px;color:#fff;font-weight:700;">13</div>
<div class="t" style="left:687.4px;top:913.1px;font-size:14px;line-height:17px;color:#fff;font-weight:700;">10</div>
<div class="t" style="left:662.3px;top:1050.9px;font-size:13.3px;line-height:16px;color:#fff;">Sales</div>
<div class="t" style="left:667.9px;top:1067.1px;font-size:13.3px;line-height:16px;color:#fff;">and</div>
<div class="t" style="left:649.8px;top:1083.3px;font-size:13.3px;line-height:16px;color:#fff;">Marketing</div>
<div class="t" style="left:236.0px;top:1166.0px;font-size:11.5px;line-height:14px;color:#fff;letter-spacing:-0.239px;">Average ROI (%)</div>
<div class="t" style="left:380.0px;top:1166.0px;font-size:11.5px;line-height:14px;color:#fff;letter-spacing:-0.163px;">Average Pay Back Period (in months)</div>
<div class="t" style="left:48.5px;top:1198.4px;font-size:10.8px;line-height:13px;color:#fff;letter-spacing:0.306px;"><b>Source:</b> Capgemini Research Institute, Automation Use Case Survey; July 2018, N=111 organizations implementing automation</div>
<div class="t" style="left:48.5px;top:1211.6px;font-size:10.8px;line-height:13px;color:#fff;letter-spacing:0.300px;">at scale.</div>
<div class="bx" style="left:48px;top:1243.0px;width:674px;height:0;border-top:1px dotted #8d7a9c"></div><div class="t" style="left:48.7px;top:1263.0px;font-size:19.3px;line-height:23px;color:#fff;letter-spacing:0.164px;-webkit-text-stroke:0.4px #fff;">Cost saving is the key driver of digital supply chain investments in nearly</div>
<div class="t" style="left:48.7px;top:1285.0px;font-size:19.3px;line-height:23px;color:#fff;letter-spacing:0.302px;-webkit-text-stroke:0.4px #fff;">four-fifths of organizations and many do not focus on customer centricity</div>
<svg width="768" height="1700" viewBox="0 0 768 1700"><g transform="translate(50 1470)"><path fill="#FF304C" fill-rule="evenodd" d="M32 27 Q32 24.6 34.5 24.6 L63 24.6 Q66 24.6 67 27.5 L77 59 L77 62 L32 62 Z M37 29.3 L37 56 L60 56 L70.5 56 L62 29.3 Z"/><path fill="#FF304C" d="M10 64 Q10 56 18 56 L30 56 L47 60 L60 56 L84 56 L84 89 L10 89 Z"/><path fill="#FF304C" d="M18 57 L18 47 Q18 43 22 43 L24 43 L24 46.5 L22.5 46.5 Q22 46.5 22 48 L25 57 Z"/><rect x="79" y="26" width="5" height="62" fill="#FF304C"/><rect x="89" y="26" width="7" height="62" fill="#FF304C"/><rect x="82" y="52" width="10" height="5" fill="#FF304C"/><rect x="82" y="74" width="10" height="4" fill="#FF304C"/><path fill="#FF304C" d="M94 41 L133 41 Q137.5 41.5 137.5 43.5 L135 45.5 L94 45.5 Z"/><circle cx="22" cy="83.8" r="14.2" fill="#2B0A3D"/><circle cx="70.8" cy="83" r="15.8" fill="#2B0A3D"/><rect x="0" y="89" width="100" height="10" fill="#2B0A3D"/><rect x="39" y="68.5" width="7.5" height="3" fill="#2B0A3D"/><circle cx="22" cy="83.8" r="8.2" fill="none" stroke="#4A12C4" stroke-width="5.6"/><circle cx="70.8" cy="83" r="9.3" fill="none" stroke="#4A12C4" stroke-width="6.4"/></g><g transform="translate(224.8 1470)"><path fill="#1A8CCB" fill-rule="evenodd" d="M32 27 Q32 24.6 34.5 24.6 L63 24.6 Q66 24.6 67 27.5 L77 59 L77 62 L32 62 Z M37 29.3 L37 56 L60 56 L70.5 56 L62 29.3 Z"/><path fill="#1A8CCB" d="M10 64 Q10 56 18 56 L30 56 L47 60 L60 56 L84 56 L84 89 L10 89 Z"/><path fill="#1A8CCB" d="M18 57 L18 47 Q18 43 22 43 L24 43 L24 46.5 L22.5 46.5 Q22 46.5 22 48 L25 57 Z"/><rect x="79" y="26" width="5" height="62" fill="#1A8CCB"/><rect x="89" y="26" width="7" height="62" fill="#1A8CCB"/><rect x="82" y="52" width="10" height="5" fill="#1A8CCB"/><rect x="82" y="74" width="10" height="4" fill="#1A8CCB"/><path fill="#1A8CCB" d="M94 41 L133 41 Q137.5 41.5 137.5 43.5 L135 45.5 L94 45.5 Z"/><circle cx="22" cy="83.8" r="14.2" fill="#2B0A3D"/><circle cx="70.8" cy="83" r="15.8" fill="#2B0A3D"/><rect x="0" y="89" width="100" height="10" fill="#2B0A3D"/><rect x="39" y="68.5" width="7.5" height="3" fill="#2B0A3D"/><circle cx="22" cy="83.8" r="8.2" fill="none" stroke="#4A12C4" stroke-width="5.6"/><circle cx="70.8" cy="83" r="9.3" fill="none" stroke="#4A12C4" stroke-width="6.4"/></g><g transform="translate(396.8 1470)"><path fill="#8B0A6E" fill-rule="evenodd" d="M32 27 Q32 24.6 34.5 24.6 L63 24.6 Q66 24.6 67 27.5 L77 59 L77 62 L32 62 Z M37 29.3 L37 56 L60 56 L70.5 56 L62 29.3 Z"/><path fill="#8B0A6E" d="M10 64 Q10 56 18 56 L30 56 L47 60 L60 56 L84 56 L84 89 L10 89 Z"/><path fill="#8B0A6E" d="M18 57 L18 47 Q18 43 22 43 L24 43 L24 46.5 L22.5 46.5 Q22 46.5 22 48 L25 57 Z"/><rect x="79" y="26" width="5" height="62" fill="#8B0A6E"/><rect x="89" y="26" width="7" height="62" fill="#8B0A6E"/><rect x="82" y="52" width="10" height="5" fill="#8B0A6E"/><rect x="82" y="74" width="10" height="4" fill="#8B0A6E"/><path fill="#8B0A6E" d="M94 41 L133 41 Q137.5 41.5 137.5 43.5 L135 45.5 L94 45.5 Z"/><circle cx="22" cy="83.8" r="14.2" fill="#2B0A3D"/><circle cx="70.8" cy="83" r="15.8" fill="#2B0A3D"/><rect x="0" y="89" width="100" height="10" fill="#2B0A3D"/><rect x="39" y="68.5" width="7.5" height="3" fill="#2B0A3D"/><circle cx="22" cy="83.8" r="8.2" fill="none" stroke="#4A12C4" stroke-width="5.6"/><circle cx="70.8" cy="83" r="9.3" fill="none" stroke="#4A12C4" stroke-width="6.4"/></g><g transform="translate(570 1470)"><path fill="#CBFF1E" fill-rule="evenodd" d="M32 27 Q32 24.6 34.5 24.6 L63 24.6 Q66 24.6 67 27.5 L77 59 L77 62 L32 62 Z M37 29.3 L37 56 L60 56 L70.5 56 L62 29.3 Z"/><path fill="#CBFF1E" d="M10 64 Q10 56 18 56 L30 56 L47 60 L60 56 L84 56 L84 89 L10 89 Z"/><path fill="#CBFF1E" d="M18 57 L18 47 Q18 43 22 43 L24 43 L24 46.5 L22.5 46.5 Q22 46.5 22 48 L25 57 Z"/><rect x="79" y="26" width="5" height="62" fill="#CBFF1E"/><rect x="89" y="26" width="7" height="62" fill="#CBFF1E"/><rect x="82" y="52" width="10" height="5" fill="#CBFF1E"/><rect x="82" y="74" width="10" height="4" fill="#CBFF1E"/><path fill="#CBFF1E" d="M94 41 L133 41 Q137.5 41.5 137.5 43.5 L135 45.5 L94 45.5 Z"/><circle cx="22" cy="83.8" r="14.2" fill="#2B0A3D"/><circle cx="70.8" cy="83" r="15.8" fill="#2B0A3D"/><rect x="0" y="89" width="100" height="10" fill="#2B0A3D"/><rect x="39" y="68.5" width="7.5" height="3" fill="#2B0A3D"/><circle cx="22" cy="83.8" r="8.2" fill="none" stroke="#4A12C4" stroke-width="5.6"/><circle cx="70.8" cy="83" r="9.3" fill="none" stroke="#4A12C4" stroke-width="6.4"/></g><rect x="146.5" y="1368.0" width="39.5" height="28.9" fill="#8B0A5E"/><rect x="146.5" y="1396.6" width="39.5" height="28.9" fill="#FF7E83"/><rect x="146.5" y="1425.2" width="39.5" height="28.9" fill="#C8257E"/><rect x="146.5" y="1453.8" width="39.5" height="28.9" fill="#FF6327"/><rect x="146.5" y="1482.4" width="39.5" height="28.9" fill="#8B0A5E"/><rect x="320.5" y="1420.5" width="39.5" height="30.5" fill="#12ABDB"/><rect x="320.5" y="1450.7" width="39.5" height="30.5" fill="#0070AD"/><rect x="320.5" y="1480.8" width="39.5" height="30.5" fill="#8ED8F0"/><rect x="492.5" y="1428.0" width="39.5" height="15.3" fill="#FF7E83"/><rect x="492.5" y="1443.0" width="39.5" height="33.3" fill="#FF6327"/><rect x="492.5" y="1476.0" width="39.5" height="35.3" fill="#FF304C"/><rect x="666" y="1465.5" width="39.5" height="14.8" fill="#1DB87E"/><rect x="666" y="1480.0" width="39.5" height="31.3" fill="#1B5569"/><path d="M48 1573.5 H718" stroke="#cfc6d8" stroke-width="1.2"/></svg><div class="t" style="left:151.0px;top:1336.8px;font-size:15px;line-height:18px;color:#fff;font-weight:700;">77%</div>
<div class="t" style="left:324.5px;top:1389.8px;font-size:15px;line-height:18px;color:#fff;font-weight:700;">56%</div>
<div class="t" style="left:497.5px;top:1398.8px;font-size:15px;line-height:18px;color:#fff;font-weight:700;">53%</div>
<div class="t" style="left:671.0px;top:1436.8px;font-size:15px;line-height:18px;color:#fff;font-weight:700;">38%</div>
<div class="t" style="left:90.2px;top:1582.5px;font-size:13.1px;line-height:16px;color:#fff;letter-spacing:-0.434px;">Saving costs</div>
<div class="t" style="left:238.3px;top:1582.5px;font-size:13.1px;line-height:16px;color:#fff;letter-spacing:-0.221px;">Increasing revenues</div>
<div class="t" style="left:429.0px;top:1583.5px;font-size:13.1px;line-height:16px;color:#fff;">Supporting new</div>
<div class="t" style="left:425.7px;top:1599.5px;font-size:13.1px;line-height:16px;color:#fff;">business models</div>
<div class="t" style="left:625.2px;top:1586.5px;font-size:13.1px;line-height:16px;color:#fff;">Being</div>
<div class="t" style="left:593.6px;top:1602.5px;font-size:13.1px;line-height:16px;color:#fff;">customer-centric</div>
<div class="t" style="left:48.5px;top:1638.3px;font-size:10.8px;line-height:13px;color:#fff;letter-spacing:0.225px;"><b>Source:</b> Capgemini Research Institute, Digital Supply Chain Survey; April–May 2018, N=1,001 organizations.</div>

<div class="t" style="left:49.0px;top:1717.9px;font-size:29.2px;line-height:35px;color:#FF304C;letter-spacing:-0.715px;font-weight:700;">Successful organizations “focus” on key initiatives</div>
<div class="t" style="left:49.0px;top:1752.1px;font-size:29.2px;line-height:35px;color:#FF304C;letter-spacing:-0.715px;font-weight:700;">and deploy them at scale</div>
<div class="t" style="left:48.5px;top:1806.6px;font-size:19.3px;line-height:23px;color:#0070AD;letter-spacing:0.206px;-webkit-text-stroke:0.5px #0070AD;">Organizations seem to be working on too many projects simultaneously, with</div>
<div class="t" style="left:48.5px;top:1830.2px;font-size:19.3px;line-height:23px;color:#0070AD;letter-spacing:0.206px;-webkit-text-stroke:0.5px #0070AD;">close to 30 projects at pre-deployment stages</div>
<svg width="768" height="2700" viewBox="0 0 768 2700"><path d="M184.5 1878 V2080" stroke="#555" stroke-width="1"/><path d="M184 1904.5 H632 V1918 Q632 1925 625 1925 H184 Z" fill="#12ABDB"/><path d="M184 1969 H677.6 V1982.6 Q677.6 1989.6 670.6 1989.6 H184 Z" fill="#FF304C"/><path d="M184 2033.3 H546.4 V2046.6 Q546.4 2053.6 539.4 2053.6 H184 Z" fill="#95E616"/><circle cx="184.7" cy="1915.8" r="22.9" fill="#0070AD"/><circle cx="184.7" cy="1979" r="22.9" fill="#0070AD"/><circle cx="184.7" cy="2043.9" r="22.9" fill="#0070AD"/><g transform="translate(184.7 1915.8)"><circle cx="0" cy="-2.5" r="7.6" fill="#12ABDB"/><path d="M-4.6 2 L4.6 2 L3.6 8 L-3.6 8 Z" fill="#12ABDB"/><path d="M-3.6 8.6 H3.6 L2.8 13.4 Q0 15 -2.8 13.4 Z" fill="#fff"/><g stroke="#7fd4ee" stroke-width="1.1" stroke-linecap="round"><path d="M0 -13.5 V-18.5"/><path d="M-9.5 -8 L-13.8 -10.6"/><path d="M9.5 -8 L13.8 -10.6"/><path d="M-9.5 3 L-13.8 5.6"/><path d="M9.5 3 L13.8 5.6"/></g></g><g transform="translate(184.7 1979)"><rect x="-10.5" y="-11" width="17" height="24" rx="1" fill="#fff" stroke="#FF304C" stroke-width="1.6"/><rect x="-5.5" y="-13.4" width="7" height="4" rx="1" fill="#FF304C"/><path d="M-7.5 -5.0 h1.6 M-4.6 -5.0 h7.5" stroke="#777" stroke-width="0.9"/><path d="M-7.5 -1.4 h1.6 M-4.6 -1.4 h7.5" stroke="#777" stroke-width="0.9"/><path d="M-7.5 2.2 h1.6 M-4.6 2.2 h7.5" stroke="#777" stroke-width="0.9"/><path d="M-7.5 5.800000000000001 h1.6 M-4.6 5.800000000000001 h7.5" stroke="#777" stroke-width="0.9"/><path d="M-1.5 7 L2.5 11.5 L12 3.5" fill="none" stroke="#2B0A3D" stroke-width="2.2" stroke-linecap="round" stroke-linejoin="round"/></g><g transform="translate(184.7 2043.9)"><path d="M0 -17 Q5.5 -10 5 4 L5 9 L-5 9 L-5 4 Q-5.5 -10 0 -17 Z" fill="#95E616"/><circle cx="0" cy="-6.5" r="1.8" fill="#0070AD"/><path d="M-5.6 4 L-7.6 4 L-7.6 10 L-5.6 10 Z M5.6 4 L7.6 4 L7.6 10 L5.6 10 Z" fill="#fff"/><path d="M-3 10.5 Q-3 15.5 0 17 Q3 15.5 3 10.5" fill="none" stroke="#fff" stroke-width="1.3"/></g><circle cx="205.2" cy="2407.3" r="80.35" fill="none" stroke="#0070AD" stroke-width="25.700000000000003"/><circle cx="205.2" cy="2407.3" r="80.35" fill="none" stroke="#12ABDB" stroke-width="21.300000000000004"/><path d="M205.2 2314.1 A93.2 93.2 0 0 0 133.4 2347.9 L153.2 2364.3 A67.5 67.5 0 0 1 205.2 2339.8 Z" fill="#C8FF16" stroke="#35C24A" stroke-width="2" stroke-linejoin="round"/><path d="M447.5 2160 L296 2644" stroke="#555" stroke-width="1" stroke-dasharray="1 3"/><defs><clipPath id="cl15"><rect x="463.7" y="2440.5" width="25.2" height="98.8"/></clipPath><clipPath id="cl15l0"><rect x="463.7" y="2519.8" width="12.6" height="9.0"/></clipPath><clipPath id="cl15r0"><rect x="476.3" y="2519.8" width="12.6" height="9.0"/></clipPath><clipPath id="cl15l1"><rect x="463.7" y="2485.4" width="12.6" height="9.0"/></clipPath><clipPath id="cl15r1"><rect x="476.3" y="2485.4" width="12.6" height="9.0"/></clipPath><clipPath id="cl15l2"><rect x="463.7" y="2451.0" width="12.6" height="9.0"/></clipPath><clipPath id="cl15r2"><rect x="476.3" y="2451.0" width="12.6" height="9.0"/></clipPath><clipPath id="cl16"><rect x="599.4" y="2356.6" width="25.2" height="182.7"/></clipPath><clipPath id="cl16l0"><rect x="599.4" y="2519.8" width="12.6" height="9.0"/></clipPath><clipPath id="cl16r0"><rect x="612.0" y="2519.8" width="12.6" height="9.0"/></clipPath><clipPath id="cl16l1"><rect x="599.4" y="2485.4" width="12.6" height="9.0"/></clipPath><clipPath id="cl16r1"><rect x="612.0" y="2485.4" width="12.6" height="9.0"/></clipPath><clipPath id="cl16l2"><rect x="599.4" y="2451.0" width="12.6" height="9.0"/></clipPath><clipPath id="cl16r2"><rect x="612.0" y="2451.0" width="12.6" height="9.0"/></clipPath><clipPath id="cl16l3"><rect x="599.4" y="2416.6" width="12.6" height="9.0"/></clipPath><clipPath id="cl16r3"><rect x="612.0" y="2416.6" width="12.6" height="9.0"/></clipPath><clipPath id="cl16l4"><rect x="599.4" y="2382.2" width="12.6" height="9.0"/></clipPath><clipPath id="cl16r4"><rect x="612.0" y="2382.2" width="12.6" height="9.0"/></clipPath><clipPath id="cl16l5"><rect x="599.4" y="2347.8" width="12.6" height="9.0"/></clipPath><clipPath id="cl16r5"><rect x="612.0" y="2347.8" width="12.6" height="9.0"/></clipPath></defs><g clip-path="url(#cl15)" fill="none" stroke-width="3.2"><rect x="471.60" y="2510.90" width="9.40" height="14.80" rx="4.70" stroke="#1078B8" stroke-width="3.2"/><g clip-path="url(#cl15l0)"><rect x="471.60" y="2522.90" width="9.40" height="14.80" rx="4.70" stroke="#E6E7E8" stroke-width="5.800000000000001"/></g><rect x="471.60" y="2522.90" width="9.40" height="14.80" rx="4.70" stroke="#1078B8" stroke-width="3.2"/><g clip-path="url(#cl15r0)"><rect x="471.60" y="2510.90" width="9.40" height="14.80" rx="4.70" stroke="#E6E7E8" stroke-width="5.800000000000001"/><rect x="471.60" y="2510.90" width="9.40" height="14.80" rx="4.70" stroke="#1078B8" stroke-width="3.2"/></g><path d="M476.3 2512.0 V2502.2" stroke="#1078B8" stroke-width="2.2"/><rect x="471.60" y="2476.50" width="9.40" height="14.80" rx="4.70" stroke="#1078B8" stroke-width="3.2"/><g clip-path="url(#cl15l1)"><rect x="471.60" y="2488.50" width="9.40" height="14.80" rx="4.70" stroke="#E6E7E8" stroke-width="5.800000000000001"/></g><rect x="471.60" y="2488.50" width="9.40" height="14.80" rx="4.70" stroke="#1078B8" stroke-width="3.2"/><g clip-path="url(#cl15r1)"><rect x="471.60" y="2476.50" width="9.40" height="14.80" rx="4.70" stroke="#E6E7E8" stroke-width="5.800000000000001"/><rect x="471.60" y="2476.50" width="9.40" height="14.80" rx="4.70" stroke="#1078B8" stroke-width="3.2"/></g><path d="M476.3 2477.6 V2467.8" stroke="#1078B8" stroke-width="2.2"/><rect x="471.60" y="2442.10" width="9.40" height="14.80" rx="4.70" stroke="#1078B8" stroke-width="3.2"/><g clip-path="url(#cl15l2)"><rect x="471.60" y="2454.10" width="9.40" height="14.80" rx="4.70" stroke="#E6E7E8" stroke-width="5.800000000000001"/></g><rect x="471.60" y="2454.10" width="9.40" height="14.80" rx="4.70" stroke="#1078B8" stroke-width="3.2"/><g clip-path="url(#cl15r2)"><rect x="471.60" y="2442.10" width="9.40" height="14.80" rx="4.70" stroke="#E6E7E8" stroke-width="5.800000000000001"/><rect x="471.60" y="2442.10" width="9.40" height="14.80" rx="4.70" stroke="#1078B8" stroke-width="3.2"/></g><path d="M476.3 2443.2 V2433.4" stroke="#1078B8" stroke-width="2.2"/></g><g clip-path="url(#cl16)" fill="none" stroke-width="3.2"><rect x="607.30" y="2510.90" width="9.40" height="14.80" rx="4.70" stroke="#1FAEDD" stroke-width="3.2"/><g clip-path="url(#cl16l0)"><rect x="607.30" y="2522.90" width="9.40" height="14.80" rx="4.70" stroke="#E6E7E8" stroke-width="5.800000000000001"/></g><rect x="607.30" y="2522.90" width="9.40" height="14.80" rx="4.70" stroke="#1FAEDD" stroke-width="3.2"/><g clip-path="url(#cl16r0)"><rect x="607.30" y="2510.90" width="9.40" height="14.80" rx="4.70" stroke="#E6E7E8" stroke-width="5.800000000000001"/><rect x="607.30" y="2510.90" width="9.40" height="14.80" rx="4.70" stroke="#1FAEDD" stroke-width="3.2"/></g><path d="M612.0 2512.0 V2502.2" stroke="#1FAEDD" stroke-width="2.2"/><rect x="607.30" y="2476.50" width="9.40" height="14.80" rx="4.70" stroke="#1FAEDD" stroke-width="3.2"/><g clip-path="url(#cl16l1)"><rect x="607.30" y="2488.50" width="9.40" height="14.80" rx="4.70" stroke="#E6E7E8" stroke-width="5.800000000000001"/></g><rect x="607.30" y="2488.50" width="9.40" height="14.80" rx="4.70" stroke="#1FAEDD" stroke-width="3.2"/><g clip-path="url(#cl16r1)"><rect x="607.30" y="2476.50" width="9.40" height="14.80" rx="4.70" stroke="#E6E7E8" stroke-width="5.800000000000001"/><rect x="607.30" y="2476.50" width="9.40" height="14.80" rx="4.70" stroke="#1FAEDD" stroke-width="3.2"/></g><path d="M612.0 2477.6 V2467.8" stroke="#1FAEDD" stroke-width="2.2"/><rect x="607.30" y="2442.10" width="9.40" height="14.80" rx="4.70" stroke="#1FAEDD" stroke-width="3.2"/><g clip-path="url(#cl16l2)"><rect x="607.30" y="2454.10" width="9.40" height="14.80" rx="4.70" stroke="#E6E7E8" stroke-width="5.800000000000001"/></g><rect x="607.30" y="2454.10" width="9.40" height="14.80" rx="4.70" stroke="#1FAEDD" stroke-width="3.2"/><g clip-path="url(#cl16r2)"><rect x="607.30" y="2442.10" width="9.40" height="14.80" rx="4.70" stroke="#E6E7E8" stroke-width="5.800000000000001"/><rect x="607.30" y="2442.10" width="9.40" height="14.80" rx="4.70" stroke="#1FAEDD" stroke-width="3.2"/></g><path d="M612.0 2443.2 V2433.4" stroke="#1FAEDD" stroke-width="2.2"/><rect x="607.30" y="2407.70" width="9.40" height="14.80" rx="4.70" stroke="#1FAEDD" stroke-width="3.2"/><g clip-path="url(#cl16l3)"><rect x="607.30" y="2419.70" width="9.40" height="14.80" rx="4.70" stroke="#E6E7E8" stroke-width="5.800000000000001"/></g><rect x="607.30" y="2419.70" width="9.40" height="14.80" rx="4.70" stroke="#1FAEDD" stroke-width="3.2"/><g clip-path="url(#cl16r3)"><rect x="607.30" y="2407.70" width="9.40" height="14.80" rx="4.70" stroke="#E6E7E8" stroke-width="5.800000000000001"/><rect x="607.30" y="2407.70" width="9.40" height="14.80" rx="4.70" stroke="#1FAEDD" stroke-width="3.2"/></g><path d="M612.0 2408.8 V2399.0" stroke="#1FAEDD" stroke-width="2.2"/><rect x="607.30" y="2373.30" width="9.40" height="14.80" rx="4.70" stroke="#1FAEDD" stroke-width="3.2"/><g clip-path="url(#cl16l4)"><rect x="607.30" y="2385.30" width="9.40" height="14.80" rx="4.70" stroke="#E6E7E8" stroke-width="5.800000000000001"/></g><rect x="607.30" y="2385.30" width="9.40" height="14.80" rx="4.70" stroke="#1FAEDD" stroke-width="3.2"/><g clip-path="url(#cl16r4)"><rect x="607.30" y="2373.30" width="9.40" height="14.80" rx="4.70" stroke="#E6E7E8" stroke-width="5.800000000000001"/><rect x="607.30" y="2373.30" width="9.40" height="14.80" rx="4.70" stroke="#1FAEDD" stroke-width="3.2"/></g><path d="M612.0 2374.4 V2364.6" stroke="#1FAEDD" stroke-width="2.2"/><rect x="607.30" y="2338.90" width="9.40" height="14.80" rx="4.70" stroke="#1FAEDD" stroke-width="3.2"/><g clip-path="url(#cl16l5)"><rect x="607.30" y="2350.90" width="9.40" height="14.80" rx="4.70" stroke="#E6E7E8" stroke-width="5.800000000000001"/></g><rect x="607.30" y="2350.90" width="9.40" height="14.80" rx="4.70" stroke="#1FAEDD" stroke-width="3.2"/><g clip-path="url(#cl16r5)"><rect x="607.30" y="2338.90" width="9.40" height="14.80" rx="4.70" stroke="#E6E7E8" stroke-width="5.800000000000001"/><rect x="607.30" y="2338.90" width="9.40" height="14.80" rx="4.70" stroke="#1FAEDD" stroke-width="3.2"/></g><path d="M612.0 2340.0 V2330.2" stroke="#1FAEDD" stroke-width="2.2"/></g><path d="M370.5 2543.5 H687" stroke="#555" stroke-width="1"/></svg><div class="t" style="left:48.2px;top:1908.3px;font-size:13.5px;line-height:16px;color:#3a3a3a;">Ideation</div>
<div class="t" style="left:48.2px;top:1971.3px;font-size:13.5px;line-height:16px;color:#3a3a3a;">Proof of concept</div>
<div class="t" style="left:48.2px;top:2035.3px;font-size:13.5px;line-height:16px;color:#3a3a3a;">Pilot</div>
<div class="t" style="left:648.0px;top:1907.6px;font-size:14px;line-height:17px;color:#2B0A3D;font-weight:700;">10</div>
<div class="t" style="left:693.0px;top:1970.6px;font-size:14px;line-height:17px;color:#2B0A3D;font-weight:700;">11</div>
<div class="t" style="left:561.7px;top:2034.6px;font-size:14px;line-height:17px;color:#2B0A3D;font-weight:700;">8</div>
<div class="t" style="left:48.5px;top:2103.8px;font-size:10.8px;line-height:13px;color:#222;letter-spacing:0.250px;"><b>Source:</b> Capgemini Research Institute, Digital Supply Chain Survey; April–May 2018, N=501 organizations.</div>
<div class="bx" style="left:48px;top:2144.5px;width:674px;height:0;border-top:1px dotted #5aa9c9"></div><div class="t" style="left:48.5px;top:2174.2px;font-size:19.3px;line-height:23px;color:#0070AD;letter-spacing:-0.059px;-webkit-text-stroke:0.5px #0070AD;">Because most lack focus, only one in seven</div>
<div class="t" style="left:48.5px;top:2198.0px;font-size:19.3px;line-height:23px;color:#0070AD;letter-spacing:-0.059px;-webkit-text-stroke:0.5px #0070AD;">organizations is successfully able to scale</div>
<div class="t" style="left:48.5px;top:2221.8px;font-size:19.3px;line-height:23px;color:#0070AD;letter-spacing:-0.059px;-webkit-text-stroke:0.5px #0070AD;">its initiatives from a pilot or PoC stage</div>
<div class="t" style="left:133.7px;top:2263.0px;font-size:13.1px;line-height:16px;color:#3a3a3a;">Percentage of organizations</div>
<div class="t" style="left:133.7px;top:2279.9px;font-size:13.1px;line-height:16px;color:#3a3a3a;">that scaled their projects</div>
<div class="t" style="left:134.0px;top:2300.8px;font-size:15px;line-height:18px;color:#2B0A3D;font-weight:700;">14%</div>
<div class="t" style="left:186.0px;top:2509.8px;font-size:15px;line-height:18px;color:#2B0A3D;font-weight:700;">86%</div>
<div class="t" style="left:54.4px;top:2529.5px;font-size:13.1px;line-height:16px;color:#3a3a3a;">Percentage of organizations</div>
<div class="t" style="left:72.6px;top:2546.5px;font-size:13.1px;line-height:16px;color:#3a3a3a;">with only a PoC or a pilot</div>
<div class="t" style="left:48.5px;top:2589.6px;font-size:10.8px;line-height:13px;color:#222;letter-spacing:0.250px;"><b>Source:</b> Capgemini Research Institute, Digital</div>
<div class="t" style="left:48.5px;top:2604.1px;font-size:10.8px;line-height:13px;color:#222;letter-spacing:0.250px;">Supply Chain Survey; April–May 2018,</div>
<div class="t" style="left:48.5px;top:2618.6px;font-size:10.8px;line-height:13px;color:#222;letter-spacing:0.250px;">N=501 organizations.</div>
<div class="t" style="left:467.0px;top:2174.2px;font-size:19.3px;line-height:23px;color:#0070AD;letter-spacing:-0.021px;-webkit-text-stroke:0.5px #0070AD;">Successful organizations</div>
<div class="t" style="left:457.6px;top:2198.0px;font-size:19.3px;line-height:23px;color:#0070AD;letter-spacing:0.255px;-webkit-text-stroke:0.5px #0070AD;">are selective about what</div>
<div class="t" style="left:445.8px;top:2221.8px;font-size:19.3px;line-height:23px;color:#0070AD;letter-spacing:0.592px;-webkit-text-stroke:0.5px #0070AD;">to implement</div>
<div class="t" style="left:431.8px;top:2256.8px;font-size:16.6px;line-height:20px;color:#FF304C;letter-spacing:0.228px;font-weight:700;">Average number of projects at</div>
<div class="t" style="left:431.8px;top:2276.8px;font-size:16.6px;line-height:20px;color:#FF304C;letter-spacing:0.228px;font-weight:700;">proof of concept level</div>
<div class="t" style="left:472.4px;top:2410.1px;font-size:14px;line-height:17px;color:#2B0A3D;font-weight:700;">6</div>
<div class="t" style="left:604.6px;top:2325.3px;font-size:14px;line-height:17px;color:#2B0A3D;font-weight:700;">11</div>
<div class="t" style="left:421.8px;top:2551.0px;font-size:13.5px;line-height:16px;color:#3a3a3a;">Organizations that</div>
<div class="t" style="left:416.6px;top:2567.3px;font-size:13.5px;line-height:16px;color:#3a3a3a;">scaled their projects</div>
<div class="t" style="left:591.4px;top:2549.0px;font-size:13.5px;line-height:16px;color:#3a3a3a;">Others</div>
<div class="t" style="left:334.8px;top:2603.6px;font-size:10.8px;line-height:13px;color:#222;letter-spacing:0.250px;"><b>Source:</b> Capgemini Research Institute, Digital Supply Chain Survey;</div>
<div class="t" style="left:334.8px;top:2618.1px;font-size:10.8px;line-height:13px;color:#222;letter-spacing:0.250px;">April–May 2018, N=501 organizations.</div>

<div class="t" style="left:49.0px;top:2699.4px;font-size:29.2px;line-height:35px;color:#FF304C;letter-spacing:-0.863px;font-weight:700;">Key use cases that can help focus organizations’</div>
<div class="t" style="left:49.0px;top:2733.4px;font-size:29.2px;line-height:35px;color:#FF304C;letter-spacing:-0.863px;font-weight:700;">efforts and investments</div>
<div class="t" style="left:48.5px;top:2789.4px;font-size:19px;line-height:23px;color:#0070AD;letter-spacing:0.017px;-webkit-text-stroke:0.5px #0070AD;">Recommended supply chain use cases based on benefits and ease of</div>
<div class="t" style="left:48.5px;top:2812.4px;font-size:19px;line-height:23px;color:#0070AD;letter-spacing:0.017px;-webkit-text-stroke:0.5px #0070AD;">implementation</div>
<svg width="768" height="3600" viewBox="0 0 768 3600"><path d="M46.9 2860.3 H154.5 L171.7 2897.55 L154.5 2934.8 H46.9 L64.1 2897.55 Z" fill="#4B14A5"/><g transform="translate(107.6 2878.5)"><path d="M-9 13 H9 V10.5 H-9 Z" fill="#fff"/><path d="M-6 10 Q-6 6.5 -2 6.5 H2 Q6 6.5 6 10 Z" fill="#fff"/><path d="M4 7 Q9 3 6 -3" fill="none" stroke="#fff" stroke-width="2"/><g transform="rotate(-32)"><rect x="-3" y="-14" width="6" height="15" rx="1" fill="#CBFF1E"/><rect x="-2" y="1.5" width="4" height="3" fill="#fff"/><rect x="-1.6" y="-17" width="3.2" height="3" fill="#fff"/></g><path d="M-8 2 H1" stroke="#fff" stroke-width="1.6"/></g><rect x="48.2" y="2946" width="104" height="383.5" fill="none" stroke="#4B14A5" stroke-width="0.9" stroke-dasharray="0.9 2.1" opacity="0.85"/><path d="M156.9 2860.3 H264.5 L281.7 2897.55 L264.5 2934.8 H156.9 L174.1 2897.55 Z" fill="#FF6327"/><g transform="translate(218.7 2878.5)"><rect x="-9" y="-12" width="18" height="25" rx="1.2" fill="#fff" stroke="#4B14A5" stroke-width="1.6"/><rect x="-4" y="-14.5" width="8" height="4.5" rx="1" fill="#4B14A5"/><path d="M-6 -5.0 h1.6 M-3 -5.0 h8" stroke="#4B14A5" stroke-width="0.9"/><path d="M-6 -1.2000000000000002 h1.6 M-3 -1.2000000000000002 h8" stroke="#4B14A5" stroke-width="0.9"/><path d="M-6 2.5999999999999996 h1.6 M-3 2.5999999999999996 h8" stroke="#4B14A5" stroke-width="0.9"/><path d="M-6 6.399999999999999 h1.6 M-3 6.399999999999999 h8" stroke="#4B14A5" stroke-width="0.9"/></g><rect x="158.2" y="2946" width="104" height="383.5" fill="none" stroke="#FF6327" stroke-width="0.9" stroke-dasharray="0.9 2.1" opacity="0.85"/><path d="M266.9 2860.3 H374.5 L391.7 2897.55 L374.5 2934.8 H266.9 L284.1 2897.55 Z" fill="#2B0A3D"/><g transform="translate(334.5 2878.5)"><path d="M-13 -11 H-8.5 L-7.5 -7 H12 L9.5 3.5 H-5 L-4.3 6 H9 V8 H-6 L-10 -9 H-13 Z" fill="#fff"/><circle cx="-4" cy="12" r="2.3" fill="none" stroke="#CBFF1E" stroke-width="1.6"/><circle cx="6.5" cy="12" r="2.3" fill="none" stroke="#CBFF1E" stroke-width="1.6"/></g><rect x="268.2" y="2946" width="104" height="383.5" fill="none" stroke="#2B0A3D" stroke-width="0.9" stroke-dasharray="0.9 2.1" opacity="0.85"/><path d="M376.9 2860.3 H484.5 L501.7 2897.55 L484.5 2934.8 H376.9 L394.1 2897.55 Z" fill="#FF304C"/><g transform="translate(442 2878.5)"><path d="M-10 13 H4 V10 H-10 Z" fill="#fff"/><path d="M-6 10 V-6 H0 V10 Z" fill="#fff"/><circle cx="-3" cy="-8" r="5" fill="#fff"/><circle cx="-3" cy="-8" r="2" fill="#CBFF1E"/><path d="M-1 -11 L10 -9 L10 -4.5 L-1 -5.5 Z" fill="#fff"/><circle cx="11" cy="-7" r="3.6" fill="#fff"/><circle cx="11" cy="-7" r="1.6" fill="#FF6327"/><path d="M13 -9.5 L17 -11 M13 -4.5 L17 -3" stroke="#fff" stroke-width="1.6"/></g><rect x="378.2" y="2946" width="104" height="383.5" fill="none" stroke="#FF304C" stroke-width="0.9" stroke-dasharray="0.9 2.1" opacity="0.85"/><path d="M486.9 2860.3 H594.5 L611.7 2897.55 L594.5 2934.8 H486.9 L504.1 2897.55 Z" fill="#12ABDB"/><g transform="translate(551.6 2878.5)"><rect x="-16" y="-12" width="19" height="19" rx="1" fill="#fff"/><path d="M4.5 -5 H11 L15.5 1 V7 H4.5 Z" fill="#fff"/><rect x="-16" y="7" width="31.5" height="2" fill="#fff"/><circle cx="-8" cy="10" r="3.2" fill="#0070AD"/><circle cx="9" cy="10" r="3.2" fill="#0070AD"/><path d="M7 -3 H10.5 L13 0.5 H7 Z" fill="#12ABDB"/></g><rect x="488.2" y="2946" width="104" height="383.5" fill="none" stroke="#12ABDB" stroke-width="0.9" stroke-dasharray="0.9 2.1" opacity="0.85"/><path d="M596.9 2860.3 H704.5 L721.7 2897.55 L704.5 2934.8 H596.9 L614.1 2897.55 Z" fill="#84D81E"/><g transform="translate(664.5 2875.5)"><g transform="scale(0.8)"><path d="M-11 -11 L-8 -12 L3 1 L0.5 3 Z" fill="#2B0A3D"/><path d="M2 2 L11 11" stroke="#2B0A3D" stroke-width="4" stroke-linecap="round"/><path d="M-10 11 L5 -5" stroke="#fff" stroke-width="3.2" stroke-linecap="round"/><path d="M4 -10 a5 5 0 1 1 6 6 l-3 -0.5 l-2.5 -2.5 Z" fill="#fff"/><circle cx="10.5" cy="-10.5" r="2.4" fill="#84D81E"/></g></g><rect x="598.2" y="2946" width="104" height="383.5" fill="none" stroke="#84D81E" stroke-width="0.9" stroke-dasharray="0.9 2.1" opacity="0.85"/><path d="M47 3346 H702 V3337.5 L720.9 3360.2 L702 3383 V3374.5 H47 Z" fill="#14969B"/><rect x="47" y="3389.5" width="673" height="66" fill="none" stroke="#14969B" stroke-width="1" stroke-dasharray="1 2"/><path d="M386 3390 V3455" stroke="#14969B" stroke-width="1" stroke-dasharray="1 2"/></svg><div class="t" style="left:71.3px;top:2899.4px;font-size:13.4px;line-height:16px;color:#fff;letter-spacing:0.100px;font-weight:700;font-style:italic;">Research &amp;</div>
<div class="t" style="left:66.1px;top:2914.9px;font-size:13.4px;line-height:16px;color:#fff;letter-spacing:0.100px;font-weight:700;font-style:italic;">Development</div>
<div class="t" style="left:186.0px;top:2899.9px;font-size:13.4px;line-height:16px;color:#fff;letter-spacing:0.100px;font-weight:700;font-style:italic;">Planning</div>
<div class="t" style="left:291.4px;top:2899.4px;font-size:13.4px;line-height:16px;color:#fff;letter-spacing:0.100px;font-weight:700;font-style:italic;">Procurement</div>
<div class="t" style="left:300.0px;top:2914.9px;font-size:13.4px;line-height:16px;color:#fff;letter-spacing:0.100px;font-weight:700;font-style:italic;">/ Sourcing</div>
<div class="t" style="left:406.1px;top:2899.9px;font-size:13.4px;line-height:16px;color:#fff;letter-spacing:0.100px;font-weight:700;font-style:italic;">Production</div>
<div class="t" style="left:513.4px;top:2899.4px;font-size:13.4px;line-height:16px;color:#fff;letter-spacing:0.100px;font-weight:700;font-style:italic;">Distribution</div>
<div class="t" style="left:514.9px;top:2914.9px;font-size:13.4px;line-height:16px;color:#fff;letter-spacing:0.100px;font-weight:700;font-style:italic;">&amp; Logistics</div>
<div class="t" style="left:619.3px;top:2887.8px;font-size:13.4px;line-height:16px;color:#fff;letter-spacing:0.100px;font-weight:700;font-style:italic;">Maintenance</div>
<div class="t" style="left:618.5px;top:2902.0px;font-size:13.4px;line-height:16px;color:#fff;letter-spacing:0.100px;font-weight:700;font-style:italic;">&amp; Equipment</div>
<div class="t" style="left:629.8px;top:2916.2px;font-size:13.4px;line-height:16px;color:#fff;letter-spacing:0.100px;font-weight:700;font-style:italic;">Servicing</div>
<div class="bx" style="left:50.7px;top:2947.9px;width:99px;height:70.8px;background:#E3E4E5"></div><div class="t" style="left:56.7px;top:2950.0px;font-size:13.5px;line-height:16px;color:#333;font-size:9px;">•</div>
<div class="t" style="left:65.2px;top:2950.1px;font-size:13.4px;line-height:16px;color:#333;">Rapid</div>
<div class="t" style="left:65.2px;top:2966.3px;font-size:13.4px;line-height:16px;color:#333;">prototyping</div>
<div class="t" style="left:65.2px;top:2982.6px;font-size:13.4px;line-height:16px;color:#333;">with 3D</div>
<div class="t" style="left:65.2px;top:2998.8px;font-size:13.4px;line-height:16px;color:#333;">printing</div>
<div class="t" style="left:56.7px;top:3021.0px;font-size:13.5px;line-height:16px;color:#333;font-size:9px;">•</div>
<div class="t" style="left:65.2px;top:3021.1px;font-size:13.4px;line-height:16px;color:#333;">Customer</div>
<div class="t" style="left:65.2px;top:3037.3px;font-size:13.4px;line-height:16px;color:#333;">co-creation</div>
<div class="t" style="left:65.2px;top:3053.6px;font-size:13.4px;line-height:16px;color:#333;">platforms for</div>
<div class="t" style="left:65.2px;top:3069.8px;font-size:13.4px;line-height:16px;color:#333;">product</div>
<div class="t" style="left:65.2px;top:3086.1px;font-size:13.4px;line-height:16px;color:#333;">development</div>
<div class="t" style="left:166.7px;top:2950.0px;font-size:13.5px;line-height:16px;color:#333;font-size:9px;">•</div>
<div class="t" style="left:175.2px;top:2950.1px;font-size:13.4px;line-height:16px;color:#333;">Advanced</div>
<div class="t" style="left:175.2px;top:2966.3px;font-size:13.4px;line-height:16px;color:#333;">demand</div>
<div class="t" style="left:175.2px;top:2982.6px;font-size:13.4px;line-height:16px;color:#333;">planning</div>
<div class="t" style="left:175.2px;top:2998.8px;font-size:13.4px;line-height:16px;color:#333;">using Big</div>
<div class="t" style="left:175.2px;top:3015.1px;font-size:13.4px;line-height:16px;color:#333;">Data analytics</div>
<div class="bx" style="left:160.7px;top:3035.1px;width:99px;height:87.0px;background:#E3E4E5"></div><div class="t" style="left:166.7px;top:3037.3px;font-size:13.5px;line-height:16px;color:#333;font-size:9px;">•</div>
<div class="t" style="left:175.2px;top:3037.3px;font-size:13.4px;line-height:16px;color:#333;">Digital Sales</div>
<div class="t" style="left:175.2px;top:3053.6px;font-size:13.4px;line-height:16px;color:#333;">and</div>
<div class="t" style="left:175.2px;top:3069.8px;font-size:13.4px;line-height:16px;color:#333;">Operations</div>
<div class="t" style="left:175.2px;top:3086.1px;font-size:13.4px;line-height:16px;color:#333;">planning</div>
<div class="t" style="left:175.2px;top:3102.3px;font-size:13.4px;line-height:16px;color:#333;">platforms</div>
<div class="t" style="left:276.7px;top:2950.0px;font-size:13.5px;line-height:16px;color:#333;font-size:9px;">•</div>
<div class="t" style="left:285.2px;top:2950.1px;font-size:13.4px;line-height:16px;color:#333;">3D printing</div>
<div class="t" style="left:285.2px;top:2966.3px;font-size:13.4px;line-height:16px;color:#333;">of parts</div>
<div class="t" style="left:276.7px;top:2988.5px;font-size:13.5px;line-height:16px;color:#333;font-size:9px;">•</div>
<div class="t" style="left:285.2px;top:2988.6px;font-size:13.4px;line-height:16px;color:#333;">Image-based</div>
<div class="t" style="left:285.2px;top:3004.8px;font-size:13.4px;line-height:16px;color:#333;">procurement</div>
<div class="t" style="left:285.2px;top:3021.1px;font-size:13.4px;line-height:16px;color:#333;">using AI</div>
<div class="t" style="left:276.7px;top:3043.3px;font-size:13.5px;line-height:16px;color:#333;font-size:9px;">•</div>
<div class="t" style="left:285.2px;top:3043.3px;font-size:13.4px;line-height:16px;color:#333;">Virtual test-</div>
<div class="t" style="left:285.2px;top:3059.6px;font-size:13.4px;line-height:16px;color:#333;">ing of suppli-</div>
<div class="t" style="left:285.2px;top:3075.8px;font-size:13.4px;line-height:16px;color:#333;">er parts and</div>
<div class="t" style="left:285.2px;top:3092.1px;font-size:13.4px;line-height:16px;color:#333;">packaging</div>
<div class="bx" style="left:270.7px;top:3112.1px;width:99px;height:54.5px;background:#E3E4E5"></div><div class="t" style="left:276.7px;top:3114.3px;font-size:13.5px;line-height:16px;color:#333;font-size:9px;">•</div>
<div class="t" style="left:285.2px;top:3114.3px;font-size:13.4px;line-height:16px;color:#333;">Order</div>
<div class="t" style="left:285.2px;top:3130.6px;font-size:13.4px;line-height:16px;color:#333;">processing</div>
<div class="t" style="left:285.2px;top:3146.8px;font-size:13.4px;line-height:16px;color:#333;">using RPA</div>
<div class="t" style="left:386.7px;top:2950.0px;font-size:13.5px;line-height:16px;color:#333;font-size:9px;">•</div>
<div class="t" style="left:395.2px;top:2950.1px;font-size:13.4px;line-height:16px;color:#333;">3D printing of</div>
<div class="t" style="left:395.2px;top:2966.3px;font-size:13.4px;line-height:16px;color:#333;">components</div>
<div class="t" style="left:386.7px;top:2988.5px;font-size:13.5px;line-height:16px;color:#333;font-size:9px;">•</div>
<div class="t" style="left:395.2px;top:2988.6px;font-size:13.4px;line-height:16px;color:#333;">Smart glasses</div>
<div class="t" style="left:395.2px;top:3004.8px;font-size:13.4px;line-height:16px;color:#333;">for guiding</div>
<div class="t" style="left:395.2px;top:3021.1px;font-size:13.4px;line-height:16px;color:#333;">assembly of</div>
<div class="t" style="left:395.2px;top:3037.3px;font-size:13.4px;line-height:16px;color:#333;">parts</div>
<div class="bx" style="left:380.7px;top:3057.4px;width:99px;height:103.2px;background:#E3E4E5"></div><div class="t" style="left:386.7px;top:3059.5px;font-size:13.5px;line-height:16px;color:#333;font-size:9px;">•</div>
<div class="t" style="left:395.2px;top:3059.6px;font-size:13.4px;line-height:16px;color:#333;">Automation</div>
<div class="t" style="left:395.2px;top:3075.8px;font-size:13.4px;line-height:16px;color:#333;">of assembly</div>
<div class="t" style="left:395.2px;top:3092.1px;font-size:13.4px;line-height:16px;color:#333;">through</div>
<div class="t" style="left:395.2px;top:3108.3px;font-size:13.4px;line-height:16px;color:#333;">Machine-to-</div>
<div class="t" style="left:395.2px;top:3124.6px;font-size:13.4px;line-height:16px;color:#333;">Machine</div>
<div class="t" style="left:395.2px;top:3140.8px;font-size:13.4px;line-height:16px;color:#333;">technologies</div>
<div class="t" style="left:496.7px;top:2950.0px;font-size:13.5px;line-height:16px;color:#333;font-size:9px;">•</div>
<div class="t" style="left:505.2px;top:2950.1px;font-size:13.4px;line-height:16px;color:#333;">Hand-free</div>
<div class="t" style="left:505.2px;top:2966.3px;font-size:13.4px;line-height:16px;color:#333;">picking</div>
<div class="t" style="left:505.2px;top:2982.6px;font-size:13.4px;line-height:16px;color:#333;">process (in</div>
<div class="t" style="left:505.2px;top:2998.8px;font-size:13.4px;line-height:16px;color:#333;">warehouses)</div>
<div class="t" style="left:496.7px;top:3021.0px;font-size:13.5px;line-height:16px;color:#333;font-size:9px;">•</div>
<div class="t" style="left:505.2px;top:3021.1px;font-size:13.4px;line-height:16px;color:#333;">Autonomous/</div>
<div class="t" style="left:505.2px;top:3037.3px;font-size:13.4px;line-height:16px;color:#333;">driverless</div>
<div class="t" style="left:505.2px;top:3053.6px;font-size:13.4px;line-height:16px;color:#333;">trucks for</div>
<div class="t" style="left:505.2px;top:3069.8px;font-size:13.4px;line-height:16px;color:#333;">transport</div>
<div class="t" style="left:496.7px;top:3092.0px;font-size:13.5px;line-height:16px;color:#333;font-size:9px;">•</div>
<div class="t" style="left:505.2px;top:3092.1px;font-size:13.4px;line-height:16px;color:#333;">Smart parking</div>
<div class="t" style="left:505.2px;top:3108.3px;font-size:13.4px;line-height:16px;color:#333;">for trucks</div>
<div class="t" style="left:505.2px;top:3124.6px;font-size:13.4px;line-height:16px;color:#333;">using sensors</div>
<div class="bx" style="left:490.7px;top:3144.6px;width:99px;height:87.0px;background:#E3E4E5"></div><div class="t" style="left:496.7px;top:3146.8px;font-size:13.5px;line-height:16px;color:#333;font-size:9px;">•</div>
<div class="t" style="left:505.2px;top:3146.8px;font-size:13.4px;line-height:16px;color:#333;">Smart sensors</div>
<div class="t" style="left:505.2px;top:3163.1px;font-size:13.4px;line-height:16px;color:#333;">in containers</div>
<div class="t" style="left:505.2px;top:3179.3px;font-size:13.4px;line-height:16px;color:#333;">to monitor</div>
<div class="t" style="left:505.2px;top:3195.6px;font-size:13.4px;line-height:16px;color:#333;">product</div>
<div class="t" style="left:505.2px;top:3211.8px;font-size:13.4px;line-height:16px;color:#333;">conditions</div>
<div class="t" style="left:496.7px;top:3234.0px;font-size:13.5px;line-height:16px;color:#333;font-size:9px;">•</div>
<div class="t" style="left:505.2px;top:3234.1px;font-size:13.4px;line-height:16px;color:#333;">Robots/drones</div>
<div class="t" style="left:505.2px;top:3250.3px;font-size:13.4px;line-height:16px;color:#333;">for last-mile</div>
<div class="t" style="left:505.2px;top:3266.6px;font-size:13.4px;line-height:16px;color:#333;">delivery</div>
<div class="t" style="left:496.7px;top:3288.8px;font-size:13.5px;line-height:16px;color:#333;font-size:9px;">•</div>
<div class="t" style="left:505.2px;top:3288.8px;font-size:13.4px;line-height:16px;color:#333;">Inventory</div>
<div class="t" style="left:505.2px;top:3305.1px;font-size:13.4px;line-height:16px;color:#333;">monitoring</div>
<div class="t" style="left:606.7px;top:2950.0px;font-size:13.5px;line-height:16px;color:#333;font-size:9px;">•</div>
<div class="t" style="left:615.2px;top:2950.1px;font-size:13.4px;line-height:16px;color:#333;">Spare part</div>
<div class="t" style="left:615.2px;top:2966.3px;font-size:13.4px;line-height:16px;color:#333;">management</div>
<div class="t" style="left:615.2px;top:2982.6px;font-size:13.4px;line-height:16px;color:#333;">using 3D</div>
<div class="t" style="left:615.2px;top:2998.8px;font-size:13.4px;line-height:16px;color:#333;">printing</div>
<div class="t" style="left:606.7px;top:3021.0px;font-size:13.5px;line-height:16px;color:#333;font-size:9px;">•</div>
<div class="t" style="left:615.2px;top:3021.1px;font-size:13.4px;line-height:16px;color:#333;">Condition-</div>
<div class="t" style="left:615.2px;top:3037.3px;font-size:13.4px;line-height:16px;color:#333;">based</div>
<div class="t" style="left:615.2px;top:3053.6px;font-size:13.4px;line-height:16px;color:#333;">maintenance</div>
<div class="t" style="left:615.2px;top:3069.8px;font-size:13.4px;line-height:16px;color:#333;">of equipment</div>
<div class="t" style="left:615.2px;top:3086.1px;font-size:13.4px;line-height:16px;color:#333;">through</div>
<div class="t" style="left:615.2px;top:3102.3px;font-size:13.4px;line-height:16px;color:#333;">predictive</div>
<div class="t" style="left:615.2px;top:3118.6px;font-size:13.4px;line-height:16px;color:#333;">analytics</div>
<div class="t" style="left:615.2px;top:3134.8px;font-size:13.4px;line-height:16px;color:#333;">platforms</div>
<div class="t" style="left:606.7px;top:3157.0px;font-size:13.5px;line-height:16px;color:#333;font-size:9px;">•</div>
<div class="t" style="left:615.2px;top:3157.1px;font-size:13.4px;line-height:16px;color:#333;">Smart glasses</div>
<div class="t" style="left:615.2px;top:3173.3px;font-size:13.4px;line-height:16px;color:#333;">to support</div>
<div class="t" style="left:615.2px;top:3189.6px;font-size:13.4px;line-height:16px;color:#333;">technicians in</div>
<div class="t" style="left:615.2px;top:3205.8px;font-size:13.4px;line-height:16px;color:#333;">fixing</div>
<div class="t" style="left:615.2px;top:3222.1px;font-size:13.4px;line-height:16px;color:#333;">equipment</div>
<div class="bx" style="left:600.7px;top:3242.1px;width:99px;height:70.8px;background:#E3E4E5"></div><div class="t" style="left:606.7px;top:3244.3px;font-size:13.5px;line-height:16px;color:#333;font-size:9px;">•</div>
<div class="t" style="left:615.2px;top:3244.3px;font-size:13.4px;line-height:16px;color:#333;">Updating and</div>
<div class="t" style="left:615.2px;top:3260.6px;font-size:13.4px;line-height:16px;color:#333;">maintaining</div>
<div class="t" style="left:615.2px;top:3276.8px;font-size:13.4px;line-height:16px;color:#333;">connected</div>
<div class="t" style="left:615.2px;top:3293.1px;font-size:13.4px;line-height:16px;color:#333;">products</div>
<div class="t" style="left:326.2px;top:3352.1px;font-size:13px;line-height:16px;color:#fff;letter-spacing:0.300px;font-weight:700;">Entire value chain</div>
<div class="bx" style="left:49.5px;top:3394.5px;width:334px;height:22.8px;background:#E3E4E5"></div><div class="bx" style="left:388.5px;top:3394.5px;width:328.5px;height:22.8px;background:#E3E4E5"></div><div class="t" style="left:57.5px;top:3401.9px;font-size:9px;line-height:11px;color:#333;">•</div>
<div class="t" style="left:57.5px;top:3423.1px;font-size:9px;line-height:11px;color:#333;">•</div>
<div class="t" style="left:68.0px;top:3397.9px;font-size:13.4px;line-height:16px;color:#333;letter-spacing:0.200px;">Direct to consumer platforms</div>
<div class="t" style="left:68.0px;top:3419.1px;font-size:13.4px;line-height:16px;color:#333;letter-spacing:0.200px;">Tracking and tracing parts with RFID and other</div>
<div class="t" style="left:68.0px;top:3435.1px;font-size:13.4px;line-height:16px;color:#333;letter-spacing:0.200px;">technologies</div>
<div class="t" style="left:394.0px;top:3401.9px;font-size:9px;line-height:11px;color:#333;">•</div>
<div class="t" style="left:394.0px;top:3423.1px;font-size:9px;line-height:11px;color:#333;">•</div>
<div class="t" style="left:404.5px;top:3397.9px;font-size:13.4px;line-height:16px;color:#333;letter-spacing:0.200px;">Robotic process automation of administrative tasks</div>
<div class="t" style="left:404.5px;top:3419.1px;font-size:13.4px;line-height:16px;color:#333;letter-spacing:0.200px;">Control tower and global supply network</div>
<div class="t" style="left:404.5px;top:3435.1px;font-size:13.4px;line-height:16px;color:#333;letter-spacing:0.200px;">optimization</div>
<div class="t" style="left:48.5px;top:3475.8px;font-size:10.8px;line-height:13px;color:#222;letter-spacing:0.250px;">*Recommended use case(s) in each part of the value chain are highlighted.</div>
<div class="t" style="left:48.5px;top:3495.4px;font-size:10.8px;line-height:13px;color:#222;letter-spacing:0.250px;"><b>Source:</b> Capgemini Research Institute, Digital Supply Chain Survey; April–May 2018, N=501 organizations, expert opinions.</div>

<div class="t" style="left:49.0px;top:3565.0px;font-size:29.2px;line-height:35px;color:#FF304C;letter-spacing:-0.688px;font-weight:700;">How can organizations successfully scale their</div>
<div class="t" style="left:49.0px;top:3599.2px;font-size:29.2px;line-height:35px;color:#FF304C;letter-spacing:-0.688px;font-weight:700;">supply chain initiatives?</div>
<svg width="768" height="4300" viewBox="0 0 768 4300"><circle cx="163.5" cy="3919" r="114.5" fill="none" stroke="#2B0A3D" stroke-width="1.8" stroke-dasharray="0.1 7.9" stroke-linecap="round"/><circle cx="162.6" cy="3923" r="87" fill="#2B0A3D"/><rect x="215.9" y="3663.2" width="355.9" height="121.30000000000018" rx="60.65000000000009" fill="#FF6327"/><path d="M228 3762 Q230 3782 221.5 3795.5 Q245 3792 262 3780 Z" fill="#FF6327"/><circle cx="274" cy="3724" r="49.3" fill="#fff"/><rect x="315.5" y="3847.2" width="405.20000000000005" height="136.80000000000018" rx="68.40000000000009" fill="#8B0A6E"/><path d="M322 3901 L300 3918 L322 3935 Z" fill="#8B0A6E"/><circle cx="381.3" cy="3917" r="53.5" fill="#fff"/><rect x="222.6" y="4052.3" width="354.4" height="131.69999999999982" rx="65.84999999999991" fill="#0070AD"/><path d="M236 4078 Q238 4052 230 4035 Q252 4044 272 4056 Z" fill="#0070AD"/><circle cx="279.8" cy="4117.6" r="48" fill="#fff"/><circle cx="210" cy="3813.8" r="15.7" fill="#E6E7E8"/><circle cx="210" cy="3813.8" r="14.3" fill="none" stroke="#FF6327" stroke-width="3"/><circle cx="210" cy="3813.8" r="9.3" fill="#FF6327"/><circle cx="276.7" cy="3917" r="15.7" fill="#E6E7E8"/><circle cx="276.7" cy="3917" r="14.3" fill="none" stroke="#8B0A6E" stroke-width="3"/><circle cx="276.7" cy="3917" r="9.3" fill="#8B0A6E"/><circle cx="207.6" cy="4019.3" r="15.7" fill="#E6E7E8"/><circle cx="207.6" cy="4019.3" r="14.3" fill="none" stroke="#0070AD" stroke-width="3"/><circle cx="207.6" cy="4019.3" r="9.3" fill="#0070AD"/><g transform="translate(271 3723) scale(1.15)"><rect x="-21" y="-24" width="36" height="49" rx="2" fill="#FFD9DC" stroke="#FF7E83" stroke-width="2.4"/><rect x="-10" y="-29" width="14" height="8" rx="1.5" fill="#FF7E83"/><path d="M-15 -11.0 l1.6 1.6 l2.6 -3 M-8 -11.0 h16" fill="none" stroke="#FF304C" stroke-width="1.2"/><path d="M-15 -3.5999999999999996 l1.6 1.6 l2.6 -3 M-8 -3.5999999999999996 h16" fill="none" stroke="#FF304C" stroke-width="1.2"/><path d="M-15 3.8000000000000007 l1.6 1.6 l2.6 -3 M-8 3.8000000000000007 h16" fill="none" stroke="#FF304C" stroke-width="1.2"/><path d="M-15 11.200000000000003 l1.6 1.6 l2.6 -3 M-8 11.200000000000003 h16" fill="none" stroke="#FF304C" stroke-width="1.2"/><path d="M-4 16 L5 25 L27 4" fill="none" stroke="#FF304C" stroke-width="4.2" stroke-linecap="round" stroke-linejoin="round"/></g><g transform="translate(381 3917) scale(1.2)"><path d="M-26 -11 H-17 a4.6 4.6 0 1 1 8 0 H-1 V-2 a4.6 4.6 0 1 0 0 8 V16 H-26 V7 a4.6 4.6 0 1 0 0 -9 Z" fill="#E2187D"/><path d="M2 -11 H10 a4.6 4.6 0 1 1 8 0 H27 V16 H18 a4.6 4.6 0 1 0 -8 0 H2 V7 a4.6 4.6 0 1 1 0 -9 Z" fill="#FF6327"/></g><g transform="translate(279.8 4117) scale(1.25)"><circle cx="-18" cy="-9" r="6.5" fill="#5A14C8"/><path d="M-30 10 Q-30 -1 -18 -1 Q-6 -1 -6 10 Z" fill="#5A14C8"/><circle cx="18" cy="-8" r="6" fill="#12ABDB"/><path d="M7 10 Q7 0 18 0 Q29 0 29 10 Z" fill="#12ABDB"/><circle cx="0" cy="-9" r="9.5" fill="#7B2FD0"/><path d="M-19 20 Q-19 3 0 3 Q19 3 19 20 Z" fill="#7B2FD0"/></g></svg><div class="t" style="left:103.1px;top:3899.1px;font-size:18.5px;line-height:22px;color:#CBFF1E;letter-spacing:0.352px;font-weight:700;">Supply chain</div>
<div class="t" style="left:109.1px;top:3922.6px;font-size:18.5px;line-height:22px;color:#CBFF1E;letter-spacing:0.853px;font-weight:700;">digitization</div>
<div class="t" style="left:342.7px;top:3677.4px;font-size:15.6px;line-height:19px;color:#fff;letter-spacing:-0.035px;font-weight:700;">Strategize &amp; plan</div>
<div class="t" style="left:343.2px;top:3704.0px;font-size:13px;line-height:16px;color:#fff;">•</div>
<div class="t" style="left:354.2px;top:3703.4px;font-size:13.2px;line-height:16px;color:#fff;letter-spacing:0.050px;">Advocate digitization from</div>
<div class="t" style="left:354.2px;top:3719.4px;font-size:13.2px;line-height:16px;color:#fff;letter-spacing:0.050px;">the top</div>
<div class="t" style="left:343.2px;top:3737.0px;font-size:13px;line-height:16px;color:#fff;">•</div>
<div class="t" style="left:354.2px;top:3736.4px;font-size:13.2px;line-height:16px;color:#fff;letter-spacing:0.050px;">Align the supply chain vision</div>
<div class="t" style="left:354.2px;top:3752.9px;font-size:13.2px;line-height:16px;color:#fff;letter-spacing:0.050px;">with the enterprise vision</div>
<div class="t" style="left:445.0px;top:3862.7px;font-size:15.6px;line-height:19px;color:#FFB08A;letter-spacing:-0.285px;font-weight:700;">Build an ecosystem to support</div>
<div class="t" style="left:446.6px;top:3886.0px;font-size:13px;line-height:16px;color:#fff;">•</div>
<div class="t" style="left:459.3px;top:3885.4px;font-size:13.2px;line-height:16px;color:#fff;letter-spacing:0.050px;">Onboard your partners to realize the</div>
<div class="t" style="left:459.3px;top:3900.9px;font-size:13.2px;line-height:16px;color:#fff;letter-spacing:0.050px;">maximum benefits</div>
<div class="t" style="left:446.6px;top:3922.6px;font-size:13px;line-height:16px;color:#fff;">•</div>
<div class="t" style="left:459.3px;top:3922.0px;font-size:13.2px;line-height:16px;color:#fff;letter-spacing:0.050px;">Foster collaboration across functions</div>
<div class="t" style="left:446.6px;top:3944.4px;font-size:13px;line-height:16px;color:#fff;">•</div>
<div class="t" style="left:459.3px;top:3943.8px;font-size:13.2px;line-height:16px;color:#fff;letter-spacing:0.050px;">Work toward establishing a data-driven</div>
<div class="t" style="left:459.3px;top:3959.4px;font-size:13.2px;line-height:16px;color:#fff;letter-spacing:0.050px;">organization</div>
<div class="t" style="left:344.0px;top:4062.7px;font-size:15.6px;line-height:19px;color:#fff;letter-spacing:-0.161px;font-weight:700;">Enable the digitization</div>
<div class="t" style="left:344.6px;top:4087.0px;font-size:13px;line-height:16px;color:#fff;">•</div>
<div class="t" style="left:355.5px;top:4086.4px;font-size:13.2px;line-height:16px;color:#fff;letter-spacing:0.050px;">Drive a customer-centric mindset</div>
<div class="t" style="left:355.5px;top:4101.9px;font-size:13.2px;line-height:16px;color:#fff;letter-spacing:0.050px;">in supply chain</div>
<div class="t" style="left:344.6px;top:4124.4px;font-size:13px;line-height:16px;color:#fff;">•</div>
<div class="t" style="left:355.5px;top:4123.8px;font-size:13.2px;line-height:16px;color:#fff;letter-spacing:0.050px;">Attract, retain, and upskill supply</div>
<div class="t" style="left:355.5px;top:4139.9px;font-size:13.2px;line-height:16px;color:#fff;letter-spacing:0.050px;">chain employees</div>
<div class="t" style="left:48.5px;top:4217.8px;font-size:10.8px;line-height:13px;color:#222;letter-spacing:0.250px;"><b>Source:</b> Capgemini Research Institute Analysis.</div>
<div class="t" style="left:52.5px;top:4289.0px;font-size:15.8px;line-height:19px;color:#F1ECF5;letter-spacing:0.003px;">This message contains information that may be privileged or confidential and is the property of</div>
<div class="t" style="left:135.0px;top:4310.3px;font-size:15.8px;line-height:19px;color:#F1ECF5;letter-spacing:-0.100px;">the Capgemini Group. Copyright © 2018 Capgemini. All rights reserved.</div>


</div></body></html>
